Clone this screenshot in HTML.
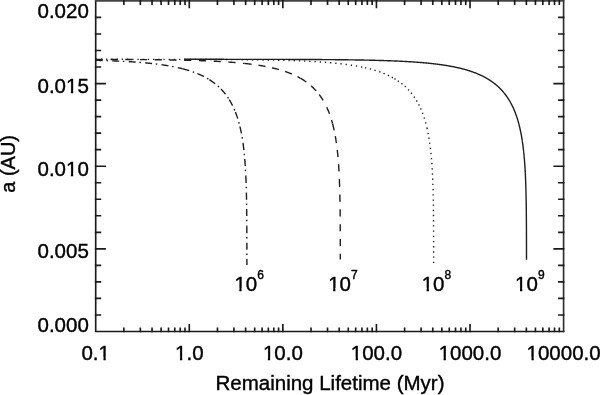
<!DOCTYPE html>
<html><head><meta charset="utf-8"><style>
html,body{margin:0;padding:0;background:#fff;width:600px;height:395px;overflow:hidden}
svg{display:block}
</style></head><body>
<svg width="600" height="395" viewBox="0 0 600 395">
<rect x="0" y="0" width="600" height="395" fill="#fff"/>
<g fill="none" stroke="#1a1a1a" stroke-width="1.65" stroke-linecap="square">
<path d="M95.70,0.90V331.50H563.60"/>
<path d="M563.60,331.50V0.90" stroke="#2e2e2e"/>
<path d="M563.60,0.90H95.70" stroke="#444"/>
<path d="M95.70,314.97h4.70 M563.60,314.97h-4.70 M95.70,298.44h4.70 M563.60,298.44h-4.70 M95.70,281.91h4.70 M563.60,281.91h-4.70 M95.70,265.38h4.70 M563.60,265.38h-4.70 M95.70,248.85h9.40 M563.60,248.85h-9.40 M95.70,232.32h4.70 M563.60,232.32h-4.70 M95.70,215.79h4.70 M563.60,215.79h-4.70 M95.70,199.26h4.70 M563.60,199.26h-4.70 M95.70,182.73h4.70 M563.60,182.73h-4.70 M95.70,166.20h9.40 M563.60,166.20h-9.40 M95.70,149.67h4.70 M563.60,149.67h-4.70 M95.70,133.14h4.70 M563.60,133.14h-4.70 M95.70,116.61h4.70 M563.60,116.61h-4.70 M95.70,100.08h4.70 M563.60,100.08h-4.70 M95.70,83.55h9.40 M563.60,83.55h-9.40 M95.70,67.02h4.70 M563.60,67.02h-4.70 M95.70,50.49h4.70 M563.60,50.49h-4.70 M95.70,33.96h4.70 M563.60,33.96h-4.70 M95.70,17.43h4.70 M563.60,17.43h-4.70 M123.87,331.50v-3.30 M123.87,0.90v3.30 M140.35,331.50v-3.30 M140.35,0.90v3.30 M152.04,331.50v-3.30 M152.04,0.90v3.30 M161.11,331.50v-3.30 M161.11,0.90v3.30 M168.52,331.50v-3.30 M168.52,0.90v3.30 M174.78,331.50v-3.30 M174.78,0.90v3.30 M180.21,331.50v-3.30 M180.21,0.90v3.30 M185.00,331.50v-3.30 M185.00,0.90v3.30 M189.28,331.50v-6.60 M189.28,0.90v6.60 M217.45,331.50v-3.30 M217.45,0.90v3.30 M233.93,331.50v-3.30 M233.93,0.90v3.30 M245.62,331.50v-3.30 M245.62,0.90v3.30 M254.69,331.50v-3.30 M254.69,0.90v3.30 M262.10,331.50v-3.30 M262.10,0.90v3.30 M268.36,331.50v-3.30 M268.36,0.90v3.30 M273.79,331.50v-3.30 M273.79,0.90v3.30 M278.58,331.50v-3.30 M278.58,0.90v3.30 M282.86,331.50v-6.60 M282.86,0.90v6.60 M311.03,331.50v-3.30 M311.03,0.90v3.30 M327.51,331.50v-3.30 M327.51,0.90v3.30 M339.20,331.50v-3.30 M339.20,0.90v3.30 M348.27,331.50v-3.30 M348.27,0.90v3.30 M355.68,331.50v-3.30 M355.68,0.90v3.30 M361.94,331.50v-3.30 M361.94,0.90v3.30 M367.37,331.50v-3.30 M367.37,0.90v3.30 M372.16,331.50v-3.30 M372.16,0.90v3.30 M376.44,331.50v-6.60 M376.44,0.90v6.60 M404.61,331.50v-3.30 M404.61,0.90v3.30 M421.09,331.50v-3.30 M421.09,0.90v3.30 M432.78,331.50v-3.30 M432.78,0.90v3.30 M441.85,331.50v-3.30 M441.85,0.90v3.30 M449.26,331.50v-3.30 M449.26,0.90v3.30 M455.52,331.50v-3.30 M455.52,0.90v3.30 M460.95,331.50v-3.30 M460.95,0.90v3.30 M465.74,331.50v-3.30 M465.74,0.90v3.30 M470.02,331.50v-6.60 M470.02,0.90v6.60 M498.19,331.50v-3.30 M498.19,0.90v3.30 M514.67,331.50v-3.30 M514.67,0.90v3.30 M526.36,331.50v-3.30 M526.36,0.90v3.30 M535.43,331.50v-3.30 M535.43,0.90v3.30 M542.84,331.50v-3.30 M542.84,0.90v3.30 M549.10,331.50v-3.30 M549.10,0.90v3.30 M554.53,331.50v-3.30 M554.53,0.90v3.30 M559.32,331.50v-3.30 M559.32,0.90v3.30"/>
</g>
<g fill="none" stroke="#1e1e1e" stroke-width="1.4">
<path d="M184.00,59.31 L184.56,59.31 L185.13,59.31 L185.69,59.31 L186.25,59.31 L186.82,59.31 L187.38,59.31 L187.95,59.31 L188.51,59.31 L189.07,59.31 L189.64,59.31 L190.20,59.31 L190.76,59.31 L191.33,59.31 L191.89,59.31 L192.46,59.31 L193.02,59.31 L193.58,59.31 L194.15,59.31 L194.71,59.31 L195.27,59.31 L195.84,59.31 L196.40,59.31 L196.97,59.31 L197.53,59.31 L198.09,59.31 L198.66,59.31 L199.22,59.31 L199.78,59.31 L200.35,59.31 L200.91,59.31 L201.47,59.31 L202.04,59.31 L202.60,59.31 L203.17,59.32 L203.73,59.32 L204.29,59.32 L204.86,59.32 L205.42,59.32 L205.98,59.32 L206.55,59.32 L207.11,59.32 L207.68,59.32 L208.24,59.32 L208.80,59.32 L209.37,59.32 L209.93,59.32 L210.49,59.32 L211.06,59.32 L211.62,59.32 L212.18,59.32 L212.75,59.32 L213.31,59.32 L213.88,59.32 L214.44,59.32 L215.00,59.32 L215.57,59.32 L216.13,59.32 L216.69,59.32 L217.26,59.32 L217.82,59.32 L218.39,59.32 L218.95,59.32 L219.51,59.32 L220.08,59.32 L220.64,59.32 L221.20,59.32 L221.77,59.32 L222.33,59.32 L222.90,59.32 L223.46,59.32 L224.02,59.33 L224.59,59.33 L225.15,59.33 L225.71,59.33 L226.28,59.33 L226.84,59.33 L227.40,59.33 L227.97,59.33 L228.53,59.33 L229.10,59.33 L229.66,59.33 L230.22,59.33 L230.79,59.33 L231.35,59.33 L231.91,59.33 L232.48,59.33 L233.04,59.33 L233.61,59.33 L234.17,59.33 L234.73,59.33 L235.30,59.33 L235.86,59.33 L236.42,59.33 L236.99,59.33 L237.55,59.33 L238.11,59.34 L238.68,59.34 L239.24,59.34 L239.81,59.34 L240.37,59.34 L240.93,59.34 L241.50,59.34 L242.06,59.34 L242.62,59.34 L243.19,59.34 L243.75,59.34 L244.32,59.34 L244.88,59.34 L245.44,59.34 L246.01,59.34 L246.57,59.34 L247.13,59.34 L247.70,59.34 L248.26,59.35 L248.83,59.35 L249.39,59.35 L249.95,59.35 L250.52,59.35 L251.08,59.35 L251.64,59.35 L252.21,59.35 L252.77,59.35 L253.33,59.35 L253.90,59.35 L254.46,59.35 L255.03,59.35 L255.59,59.35 L256.15,59.35 L256.72,59.36 L257.28,59.36 L257.84,59.36 L258.41,59.36 L258.97,59.36 L259.54,59.36 L260.10,59.36 L260.66,59.36 L261.23,59.36 L261.79,59.36 L262.35,59.36 L262.92,59.36 L263.48,59.37 L264.04,59.37 L264.61,59.37 L265.17,59.37 L265.74,59.37 L266.30,59.37 L266.86,59.37 L267.43,59.37 L267.99,59.37 L268.55,59.37 L269.12,59.37 L269.68,59.38 L270.25,59.38 L270.81,59.38 L271.37,59.38 L271.94,59.38 L272.50,59.38 L273.06,59.38 L273.63,59.38 L274.19,59.38 L274.76,59.39 L275.32,59.39 L275.88,59.39 L276.45,59.39 L277.01,59.39 L277.57,59.39 L278.14,59.39 L278.70,59.39 L279.26,59.40 L279.83,59.40 L280.39,59.40 L280.96,59.40 L281.52,59.40 L282.08,59.40 L282.65,59.40 L283.21,59.41 L283.77,59.41 L284.34,59.41 L284.90,59.41 L285.47,59.41 L286.03,59.41 L286.59,59.41 L287.16,59.42 L287.72,59.42 L288.28,59.42 L288.85,59.42 L289.41,59.42 L289.97,59.42 L290.54,59.43 L291.10,59.43 L291.67,59.43 L292.23,59.43 L292.79,59.43 L293.36,59.44 L293.92,59.44 L294.48,59.44 L295.05,59.44 L295.61,59.44 L296.18,59.45 L296.74,59.45 L297.30,59.45 L297.87,59.45 L298.43,59.45 L298.99,59.46 L299.56,59.46 L300.12,59.46 L300.69,59.46 L301.25,59.46 L301.81,59.47 L302.38,59.47 L302.94,59.47 L303.50,59.47 L304.07,59.48 L304.63,59.48 L305.19,59.48 L305.76,59.48 L306.32,59.49 L306.89,59.49 L307.45,59.49 L308.01,59.49 L308.58,59.50 L309.14,59.50 L309.70,59.50 L310.27,59.51 L310.83,59.51 L311.40,59.51 L311.96,59.51 L312.52,59.52 L313.09,59.52 L313.65,59.52 L314.21,59.53 L314.78,59.53 L315.34,59.53 L315.91,59.54 L316.47,59.54 L317.03,59.54 L317.60,59.55 L318.16,59.55 L318.72,59.55 L319.29,59.56 L319.85,59.56 L320.41,59.56 L320.98,59.57 L321.54,59.57 L322.11,59.58 L322.67,59.58 L323.23,59.58 L323.80,59.59 L324.36,59.59 L324.92,59.60 L325.49,59.60 L326.05,59.60 L326.62,59.61 L327.18,59.61 L327.74,59.62 L328.31,59.62 L328.87,59.63 L329.43,59.63 L330.00,59.63 L330.56,59.64 L331.12,59.64 L331.69,59.65 L332.25,59.65 L332.82,59.66 L333.38,59.66 L333.94,59.67 L334.51,59.67 L335.07,59.68 L335.63,59.68 L336.20,59.69 L336.76,59.70 L337.33,59.70 L337.89,59.71 L338.45,59.71 L339.02,59.72 L339.58,59.72 L340.14,59.73 L340.71,59.74 L341.27,59.74 L341.84,59.75 L342.40,59.75 L342.96,59.76 L343.53,59.77 L344.09,59.77 L344.65,59.78 L345.22,59.79 L345.78,59.79 L346.34,59.80 L346.91,59.81 L347.47,59.81 L348.04,59.82 L348.60,59.83 L349.16,59.84 L349.73,59.84 L350.29,59.85 L350.85,59.86 L351.42,59.87 L351.98,59.88 L352.55,59.88 L353.11,59.89 L353.67,59.90 L354.24,59.91 L354.80,59.92 L355.36,59.93 L355.93,59.93 L356.49,59.94 L357.05,59.95 L357.62,59.96 L358.18,59.97 L358.75,59.98 L359.31,59.99 L359.87,60.00 L360.44,60.01 L361.00,60.02 L361.56,60.03 L362.13,60.04 L362.69,60.05 L363.26,60.06 L363.82,60.07 L364.38,60.08 L364.95,60.09 L365.51,60.10 L366.07,60.12 L366.64,60.13 L367.20,60.14 L367.77,60.15 L368.33,60.16 L368.89,60.17 L369.46,60.19 L370.02,60.20 L370.58,60.21 L371.15,60.22 L371.71,60.24 L372.27,60.25 L372.84,60.26 L373.40,60.28 L373.97,60.29 L374.53,60.31 L375.09,60.32 L375.66,60.33 L376.22,60.35 L376.78,60.36 L377.35,60.38 L377.91,60.39 L378.48,60.41 L379.04,60.43 L379.60,60.44 L380.17,60.46 L380.73,60.47 L381.29,60.49 L381.86,60.51 L382.42,60.52 L382.98,60.54 L383.55,60.56 L384.11,60.58 L384.68,60.59 L385.24,60.61 L385.80,60.63 L386.37,60.65 L386.93,60.67 L387.49,60.69 L388.06,60.71 L388.62,60.73 L389.19,60.75 L389.75,60.77 L390.31,60.79 L390.88,60.81 L391.44,60.83 L392.00,60.85 L392.57,60.88 L393.13,60.90 L393.70,60.92 L394.26,60.94 L394.82,60.97 L395.39,60.99 L395.95,61.02 L396.51,61.04 L397.08,61.06 L397.64,61.09 L398.20,61.12 L398.77,61.14 L399.33,61.17 L399.90,61.19 L400.46,61.22 L401.02,61.25 L401.59,61.28 L402.15,61.30 L402.71,61.33 L403.28,61.36 L403.84,61.39 L404.41,61.42 L404.97,61.45 L405.53,61.48 L406.10,61.51 L406.66,61.55 L407.22,61.58 L407.79,61.61 L408.35,61.64 L408.91,61.68 L409.48,61.71 L410.04,61.74 L410.61,61.78 L411.17,61.82 L411.73,61.85 L412.30,61.89 L412.86,61.92 L413.42,61.96 L413.99,62.00 L414.55,62.04 L415.12,62.08 L415.68,62.12 L416.24,62.16 L416.81,62.20 L417.37,62.24 L417.93,62.28 L418.50,62.33 L419.06,62.37 L419.63,62.42 L420.19,62.46 L420.75,62.51 L421.32,62.55 L421.88,62.60 L422.44,62.65 L423.01,62.70 L423.57,62.74 L424.13,62.79 L424.70,62.85 L425.26,62.90 L425.83,62.95 L426.39,63.00 L426.95,63.06 L427.52,63.11 L428.08,63.17 L428.64,63.22 L429.21,63.28 L429.77,63.34 L430.34,63.40 L430.90,63.45 L431.46,63.52 L432.03,63.58 L432.59,63.64 L433.15,63.70 L433.72,63.77 L434.28,63.83 L434.85,63.90 L435.41,63.97 L435.97,64.03 L436.54,64.10 L437.10,64.17 L437.66,64.25 L438.23,64.32 L438.79,64.39 L439.35,64.47 L439.92,64.54 L440.48,64.62 L441.05,64.70 L441.61,64.78 L442.17,64.86 L442.74,64.94 L443.30,65.03 L443.86,65.11 L444.43,65.20 L444.99,65.29 L445.56,65.37 L446.12,65.47 L446.68,65.56 L447.25,65.65 L447.81,65.75 L448.37,65.84 L448.94,65.94 L449.50,66.04 L450.06,66.14 L450.63,66.24 L451.19,66.35 L451.76,66.45 L452.32,66.56 L452.88,66.67 L453.45,66.78 L454.01,66.89 L454.57,67.01 L455.14,67.13 L455.70,67.25 L456.27,67.37 L456.83,67.49 L457.39,67.61 L457.96,67.74 L458.52,67.87 L459.08,68.00 L459.65,68.13 L460.21,68.27 L460.78,68.41 L461.34,68.55 L461.90,68.69 L462.47,68.83 L463.03,68.98 L463.59,69.13 L464.16,69.28 L464.72,69.44 L465.28,69.60 L465.85,69.76 L466.41,69.92 L466.98,70.09 L467.54,70.26 L468.10,70.43 L468.67,70.60 L469.23,70.78 L469.79,70.96 L470.36,71.15 L470.92,71.34 L471.49,71.53 L472.05,71.72 L472.61,71.92 L473.18,72.12 L473.74,72.33 L474.30,72.54 L474.87,72.75 L475.43,72.97 L475.99,73.19 L476.56,73.42 L477.12,73.65 L477.69,73.88 L478.25,74.12 L478.81,74.36 L479.38,74.61 L479.94,74.86 L480.50,75.12 L481.07,75.38 L481.63,75.65 L482.20,75.93 L482.76,76.20 L483.32,76.49 L483.89,76.78 L484.45,77.08 L485.01,77.38 L485.58,77.69 L486.14,78.00 L486.71,78.32 L487.27,78.65 L487.83,78.99 L488.40,79.33 L488.96,79.68 L489.52,80.04 L490.09,80.40 L490.65,80.78 L491.21,81.16 L491.78,81.55 L492.34,81.95 L492.91,82.36 L493.47,82.77 L494.03,83.20 L494.60,83.64 L495.16,84.09 L495.72,84.55 L496.29,85.02 L496.85,85.50 L497.42,86.00 L497.98,86.50 L498.54,87.02 L499.11,87.56 L499.67,88.11 L500.23,88.67 L500.80,89.25 L501.36,89.84 L501.92,90.45 L502.49,91.08 L503.05,91.73 L503.62,92.39 L504.18,93.07 L504.74,93.78 L505.31,94.51 L505.87,95.26 L506.43,96.03 L507.00,96.83 L507.56,97.66 L508.13,98.51 L508.69,99.40 L509.25,100.31 L509.82,101.26 L510.38,102.25 L510.94,103.27 L511.51,104.34 L512.07,105.45 L512.64,106.60 L513.20,107.81 L513.76,109.07 L514.33,110.39 L514.89,111.77 L515.45,113.22 L516.02,114.75 L516.58,116.37 L517.14,118.07 L517.71,119.89 L518.27,121.81 L518.84,123.87 L519.40,126.09 L519.96,128.47 L520.53,131.06 L521.09,133.88 L521.65,136.99 L522.22,140.45 L522.25,140.69 L522.29,140.93 L522.33,141.17 L522.36,141.40 L522.40,141.64 L522.43,141.88 L522.47,142.12 L522.50,142.36 L522.54,142.60 L522.57,142.84 L522.60,143.07 L522.64,143.31 L522.67,143.55 L522.70,143.79 L522.74,144.03 L522.77,144.27 L522.80,144.51 L522.83,144.74 L522.87,144.98 L522.90,145.22 L522.93,145.46 L522.96,145.70 L522.99,145.94 L523.02,146.17 L523.05,146.41 L523.08,146.65 L523.11,146.89 L523.14,147.13 L523.17,147.37 L523.20,147.61 L523.23,147.84 L523.26,148.08 L523.29,148.32 L523.31,148.56 L523.34,148.80 L523.37,149.04 L523.40,149.28 L523.43,149.51 L523.45,149.75 L523.48,149.99 L523.51,150.23 L523.53,150.47 L523.56,150.71 L523.59,150.94 L523.61,151.18 L523.64,151.42 L523.66,151.66 L523.69,151.90 L523.71,152.14 L523.74,152.38 L523.76,152.61 L523.79,152.85 L523.81,153.09 L523.84,153.33 L523.86,153.57 L523.88,153.81 L523.91,154.05 L523.93,154.28 L523.95,154.52 L523.98,154.76 L524.00,155.00 L524.02,155.24 L524.04,155.48 L524.07,155.71 L524.09,155.95 L524.11,156.19 L524.13,156.43 L524.15,156.67 L524.17,156.91 L524.20,157.15 L524.22,157.38 L524.24,157.62 L524.26,157.86 L524.28,158.10 L524.30,158.34 L524.32,158.58 L524.34,158.82 L524.36,159.05 L524.38,159.29 L524.40,159.53 L524.42,159.77 L524.44,160.01 L524.46,160.25 L524.48,160.48 L524.49,160.72 L524.51,160.96 L524.53,161.20 L524.55,161.44 L524.57,161.68 L524.59,161.92 L524.60,162.15 L524.62,162.39 L524.64,162.63 L524.66,162.87 L524.67,163.11 L524.69,163.35 L524.71,163.59 L524.73,163.82 L524.74,164.06 L524.76,164.30 L524.78,164.54 L524.79,164.78 L524.81,165.02 L524.82,165.25 L524.84,165.49 L524.86,165.73 L524.87,165.97 L524.89,166.21 L524.90,166.45 L524.92,166.69 L524.93,166.92 L524.95,167.16 L524.96,167.40 L524.98,167.64 L524.99,167.88 L525.01,168.12 L525.02,168.36 L525.04,168.59 L525.05,168.83 L525.06,169.07 L525.08,169.31 L525.09,169.55 L525.11,169.79 L525.12,170.02 L525.13,170.26 L525.15,170.50 L525.16,170.74 L525.17,170.98 L525.19,171.22 L525.20,171.46 L525.21,171.69 L525.22,171.93 L525.24,172.17 L525.25,172.41 L525.26,172.65 L525.27,172.89 L525.29,173.13 L525.30,173.36 L525.31,173.60 L525.32,173.84 L525.33,174.08 L525.35,174.32 L525.36,174.56 L525.37,174.79 L525.38,175.03 L525.39,175.27 L525.40,175.51 L525.41,175.75 L525.42,175.99 L525.44,176.23 L525.45,176.46 L525.46,176.70 L525.47,176.94 L525.48,177.18 L525.49,177.42 L525.50,177.66 L525.51,177.90 L525.52,178.13 L525.53,178.37 L525.54,178.61 L525.55,178.85 L525.56,179.09 L525.57,179.33 L525.58,179.56 L525.59,179.80 L525.60,180.04 L525.61,180.28 L525.62,180.52 L525.63,180.76 L525.63,181.00 L525.64,181.23 L525.65,181.47 L525.66,181.71 L525.67,181.95 L525.68,182.19 L525.69,182.43 L525.70,182.67 L525.70,182.90 L525.71,183.14 L525.72,183.38 L525.73,183.62 L525.74,183.86 L525.75,184.10 L525.75,184.33 L525.76,184.57 L525.77,184.81 L525.78,185.05 L525.79,185.29 L525.79,185.53 L525.80,185.77 L525.81,186.00 L525.82,186.24 L525.82,186.48 L525.83,186.72 L525.84,186.96 L525.84,187.20 L525.85,187.44 L525.86,187.67 L525.87,187.91 L525.87,188.15 L525.88,188.39 L525.89,188.63 L525.89,188.87 L525.90,189.10 L525.91,189.34 L525.91,189.58 L525.92,189.82 L525.93,190.06 L525.93,190.30 L525.94,190.54 L525.95,190.77 L525.95,191.01 L525.96,191.25 L525.96,191.49 L525.97,191.73 L525.98,191.97 L525.98,192.20 L525.99,192.44 L525.99,192.68 L526.00,192.92 L526.00,193.16 L526.01,193.40 L526.02,193.64 L526.02,193.87 L526.03,194.11 L526.03,194.35 L526.04,194.59 L526.04,194.83 L526.05,195.07 L526.05,195.31 L526.06,195.54 L526.06,195.78 L526.07,196.02 L526.07,196.26 L526.08,196.50 L526.08,196.74 L526.09,196.97 L526.09,197.21 L526.10,197.45 L526.10,197.69 L526.11,197.93 L526.11,198.17 L526.12,198.41 L526.12,198.64 L526.13,198.88 L526.13,199.12 L526.13,199.36 L526.14,199.60 L526.14,199.84 L526.15,200.08 L526.15,200.31 L526.16,200.55 L526.16,200.79 L526.16,201.03 L526.17,201.27 L526.17,201.51 L526.18,201.74 L526.18,201.98 L526.18,202.22 L526.19,202.46 L526.19,202.70 L526.20,202.94 L526.20,203.18 L526.20,203.41 L526.21,203.65 L526.21,203.89 L526.21,204.13 L526.22,204.37 L526.22,204.61 L526.22,204.85 L526.23,205.08 L526.23,205.32 L526.23,205.56 L526.24,205.80 L526.24,206.04 L526.24,206.28 L526.25,206.51 L526.25,206.75 L526.25,206.99 L526.26,207.23 L526.26,207.47 L526.26,207.71 L526.27,207.95 L526.27,208.18 L526.27,208.42 L526.28,208.66 L526.28,208.90 L526.28,209.14 L526.28,209.38 L526.29,209.62 L526.29,209.85 L526.29,210.09 L526.30,210.33 L526.30,210.57 L526.30,210.81 L526.30,211.05 L526.31,211.28 L526.31,211.52 L526.31,211.76 L526.31,212.00 L526.32,212.24 L526.32,212.48 L526.32,212.72 L526.32,212.95 L526.33,213.19 L526.33,213.43 L526.33,213.67 L526.33,213.91 L526.34,214.15 L526.34,214.39 L526.34,214.62 L526.34,214.86 L526.34,215.10 L526.35,215.34 L526.35,215.58 L526.35,215.82 L526.35,216.05 L526.35,216.29 L526.36,216.53 L526.36,216.77 L526.36,217.01 L526.36,217.25 L526.36,217.49 L526.37,217.72 L526.37,217.96 L526.37,218.20 L526.37,218.44 L526.37,218.68 L526.38,218.92 L526.38,219.16 L526.38,219.39 L526.38,219.63 L526.38,219.87 L526.38,220.11 L526.39,220.35 L526.39,220.59 L526.39,220.82 L526.39,221.06 L526.39,221.30 L526.39,221.54 L526.40,221.78 L526.40,222.02 L526.40,222.26 L526.40,222.49 L526.40,222.73 L526.40,222.97 L526.41,223.21 L526.41,223.45 L526.41,223.69 L526.41,223.93 L526.41,224.16 L526.41,224.40 L526.41,224.64 L526.42,224.88 L526.42,225.12 L526.42,225.36 L526.42,225.59 L526.42,225.83 L526.42,226.07 L526.42,226.31 L526.42,226.55 L526.43,226.79 L526.43,227.03 L526.43,227.26 L526.43,227.50 L526.43,227.74 L526.43,227.98 L526.43,228.22 L526.43,228.46 L526.43,228.70 L526.44,228.93 L526.44,229.17 L526.44,229.41 L526.44,229.65 L526.44,229.89 L526.44,230.13 L526.44,230.36 L526.44,230.60 L526.44,230.84 L526.44,231.08 L526.45,231.32 L526.45,231.56 L526.45,231.80 L526.45,232.03 L526.45,232.27 L526.45,232.51 L526.45,232.75 L526.45,232.99 L526.45,233.23 L526.45,233.47 L526.45,233.70 L526.46,233.94 L526.46,234.18 L526.46,234.42 L526.46,234.66 L526.46,234.90 L526.46,235.13 L526.46,235.37 L526.46,235.61 L526.46,235.85 L526.46,236.09 L526.46,236.33 L526.46,236.57 L526.46,236.80 L526.47,237.04 L526.47,237.28 L526.47,237.52 L526.47,237.76 L526.47,238.00 L526.47,238.24 L526.47,238.47 L526.47,238.71 L526.47,238.95 L526.47,239.19 L526.47,239.43 L526.47,239.67 L526.47,239.90 L526.47,240.14 L526.47,240.38 L526.47,240.62 L526.48,240.86 L526.48,241.10 L526.48,241.34 L526.48,241.57 L526.48,241.81 L526.48,242.05 L526.48,242.29 L526.48,242.53 L526.48,242.77 L526.48,243.01 L526.48,243.24 L526.48,243.48 L526.48,243.72 L526.48,243.96 L526.48,244.20 L526.48,244.44 L526.48,244.67 L526.48,244.91 L526.48,245.15 L526.48,245.39 L526.48,245.63 L526.48,245.87 L526.49,246.11 L526.49,246.34 L526.49,246.58 L526.49,246.82 L526.49,247.06 L526.49,247.30 L526.49,247.54 L526.49,247.78 L526.49,248.01 L526.49,248.25 L526.49,248.49 L526.49,248.73 L526.49,248.97 L526.49,249.21 L526.49,249.44 L526.49,249.68 L526.49,249.92 L526.49,250.16 L526.49,250.40 L526.49,250.64 L526.49,250.88 L526.49,251.11 L526.49,251.35 L526.49,251.59 L526.49,251.83 L526.49,252.07 L526.49,252.31 L526.49,252.55 L526.49,252.78 L526.49,253.02 L526.49,253.26 L526.49,253.50 L526.50,253.74 L526.50,253.98 L526.50,254.21 L526.50,254.45 L526.50,254.69 L526.50,254.93 L526.50,255.17 L526.50,255.41 L526.50,255.65 L526.50,255.88 L526.50,256.12 L526.50,256.36 L526.50,256.60 L526.50,256.84 L526.50,257.08 L526.50,257.32 L526.50,257.55 L526.50,257.79 L526.50,258.03 L526.50,258.27 L526.50,258.51 L526.50,258.75 L526.50,258.98 L526.50,259.22 L526.50,259.46 L526.50,259.70"/>
<path d="M95.70,59.31 L96.26,59.31 L96.81,59.31 L97.37,59.31 L97.92,59.31 L98.48,59.31 L99.04,59.31 L99.59,59.31 L100.15,59.31 L100.71,59.31 L101.26,59.31 L101.82,59.31 L102.37,59.31 L102.93,59.31 L103.49,59.31 L104.04,59.31 L104.60,59.31 L105.15,59.31 L105.71,59.31 L106.27,59.31 L106.82,59.31 L107.38,59.31 L107.93,59.31 L108.49,59.31 L109.05,59.31 L109.60,59.31 L110.16,59.32 L110.72,59.32 L111.27,59.32 L111.83,59.32 L112.38,59.32 L112.94,59.32 L113.50,59.32 L114.05,59.32 L114.61,59.32 L115.16,59.32 L115.72,59.32 L116.28,59.32 L116.83,59.32 L117.39,59.32 L117.94,59.32 L118.50,59.32 L119.06,59.32 L119.61,59.32 L120.17,59.32 L120.73,59.32 L121.28,59.32 L121.84,59.32 L122.39,59.32 L122.95,59.32 L123.51,59.32 L124.06,59.32 L124.62,59.32 L125.17,59.32 L125.73,59.32 L126.29,59.32 L126.84,59.32 L127.40,59.32 L127.95,59.32 L128.51,59.32 L129.07,59.32 L129.62,59.32 L130.18,59.32 L130.74,59.32 L131.29,59.33 L131.85,59.33 L132.40,59.33 L132.96,59.33 L133.52,59.33 L134.07,59.33 L134.63,59.33 L135.18,59.33 L135.74,59.33 L136.30,59.33 L136.85,59.33 L137.41,59.33 L137.96,59.33 L138.52,59.33 L139.08,59.33 L139.63,59.33 L140.19,59.33 L140.75,59.33 L141.30,59.33 L141.86,59.33 L142.41,59.33 L142.97,59.33 L143.53,59.33 L144.08,59.33 L144.64,59.33 L145.19,59.34 L145.75,59.34 L146.31,59.34 L146.86,59.34 L147.42,59.34 L147.97,59.34 L148.53,59.34 L149.09,59.34 L149.64,59.34 L150.20,59.34 L150.76,59.34 L151.31,59.34 L151.87,59.34 L152.42,59.34 L152.98,59.34 L153.54,59.34 L154.09,59.34 L154.65,59.34 L155.20,59.34 L155.76,59.35 L156.32,59.35 L156.87,59.35 L157.43,59.35 L157.98,59.35 L158.54,59.35 L159.10,59.35 L159.65,59.35 L160.21,59.35 L160.77,59.35 L161.32,59.35 L161.88,59.35 L162.43,59.35 L162.99,59.35 L163.55,59.35 L164.10,59.36 L164.66,59.36 L165.21,59.36 L165.77,59.36 L166.33,59.36 L166.88,59.36 L167.44,59.36 L167.99,59.36 L168.55,59.36 L169.11,59.36 L169.66,59.36 L170.22,59.36 L170.78,59.37 L171.33,59.37 L171.89,59.37 L172.44,59.37 L173.00,59.37 L173.56,59.37 L174.11,59.37 L174.67,59.37 L175.22,59.37 L175.78,59.37 L176.34,59.38 L176.89,59.38 L177.45,59.38 L178.00,59.38 L178.56,59.38 L179.12,59.38 L179.67,59.38 L180.23,59.38 L180.79,59.38 L181.34,59.38 L181.90,59.39 L182.45,59.39 L183.01,59.39 L183.57,59.39 L184.12,59.39 L184.68,59.39 L185.23,59.39 L185.79,59.39 L186.35,59.40 L186.90,59.40 L187.46,59.40 L188.01,59.40 L188.57,59.40 L189.13,59.40 L189.68,59.40 L190.24,59.41 L190.80,59.41 L191.35,59.41 L191.91,59.41 L192.46,59.41 L193.02,59.41 L193.58,59.41 L194.13,59.42 L194.69,59.42 L195.24,59.42 L195.80,59.42 L196.36,59.42 L196.91,59.42 L197.47,59.43 L198.02,59.43 L198.58,59.43 L199.14,59.43 L199.69,59.43 L200.25,59.43 L200.81,59.44 L201.36,59.44 L201.92,59.44 L202.47,59.44 L203.03,59.44 L203.59,59.45 L204.14,59.45 L204.70,59.45 L205.25,59.45 L205.81,59.45 L206.37,59.46 L206.92,59.46 L207.48,59.46 L208.03,59.46 L208.59,59.47 L209.15,59.47 L209.70,59.47 L210.26,59.47 L210.82,59.47 L211.37,59.48 L211.93,59.48 L212.48,59.48 L213.04,59.48 L213.60,59.49 L214.15,59.49 L214.71,59.49 L215.26,59.50 L215.82,59.50 L216.38,59.50 L216.93,59.50 L217.49,59.51 L218.04,59.51 L218.60,59.51 L219.16,59.51 L219.71,59.52 L220.27,59.52 L220.83,59.52 L221.38,59.53 L221.94,59.53 L222.49,59.53 L223.05,59.54 L223.61,59.54 L224.16,59.54 L224.72,59.55 L225.27,59.55 L225.83,59.55 L226.39,59.56 L226.94,59.56 L227.50,59.56 L228.05,59.57 L228.61,59.57 L229.17,59.57 L229.72,59.58 L230.28,59.58 L230.84,59.59 L231.39,59.59 L231.95,59.59 L232.50,59.60 L233.06,59.60 L233.62,59.61 L234.17,59.61 L234.73,59.61 L235.28,59.62 L235.84,59.62 L236.40,59.63 L236.95,59.63 L237.51,59.64 L238.07,59.64 L238.62,59.65 L239.18,59.65 L239.73,59.66 L240.29,59.66 L240.85,59.67 L241.40,59.67 L241.96,59.68 L242.51,59.68 L243.07,59.69 L243.63,59.69 L244.18,59.70 L244.74,59.70 L245.29,59.71 L245.85,59.71 L246.41,59.72 L246.96,59.73 L247.52,59.73 L248.08,59.74 L248.63,59.74 L249.19,59.75 L249.74,59.76 L250.30,59.76 L250.86,59.77 L251.41,59.78 L251.97,59.78 L252.52,59.79 L253.08,59.80 L253.64,59.80 L254.19,59.81 L254.75,59.82 L255.30,59.82 L255.86,59.83 L256.42,59.84 L256.97,59.85 L257.53,59.85 L258.09,59.86 L258.64,59.87 L259.20,59.88 L259.75,59.88 L260.31,59.89 L260.87,59.90 L261.42,59.91 L261.98,59.92 L262.53,59.93 L263.09,59.93 L263.65,59.94 L264.20,59.95 L264.76,59.96 L265.31,59.97 L265.87,59.98 L266.43,59.99 L266.98,60.00 L267.54,60.01 L268.10,60.02 L268.65,60.03 L269.21,60.04 L269.76,60.05 L270.32,60.06 L270.88,60.07 L271.43,60.08 L271.99,60.09 L272.54,60.10 L273.10,60.11 L273.66,60.12 L274.21,60.14 L274.77,60.15 L275.32,60.16 L275.88,60.17 L276.44,60.18 L276.99,60.20 L277.55,60.21 L278.11,60.22 L278.66,60.23 L279.22,60.25 L279.77,60.26 L280.33,60.27 L280.89,60.29 L281.44,60.30 L282.00,60.31 L282.55,60.33 L283.11,60.34 L283.67,60.36 L284.22,60.37 L284.78,60.39 L285.33,60.40 L285.89,60.42 L286.45,60.43 L287.00,60.45 L287.56,60.46 L288.12,60.48 L288.67,60.50 L289.23,60.51 L289.78,60.53 L290.34,60.55 L290.90,60.57 L291.45,60.58 L292.01,60.60 L292.56,60.62 L293.12,60.64 L293.68,60.66 L294.23,60.67 L294.79,60.69 L295.34,60.71 L295.90,60.73 L296.46,60.75 L297.01,60.77 L297.57,60.79 L298.13,60.82 L298.68,60.84 L299.24,60.86 L299.79,60.88 L300.35,60.90 L300.91,60.92 L301.46,60.95 L302.02,60.97 L302.57,60.99 L303.13,61.02 L303.69,61.04 L304.24,61.07 L304.80,61.09 L305.35,61.12 L305.91,61.14 L306.47,61.17 L307.02,61.19 L307.58,61.22 L308.14,61.25 L308.69,61.27 L309.25,61.30 L309.80,61.33 L310.36,61.36 L310.92,61.39 L311.47,61.42 L312.03,61.45 L312.58,61.48 L313.14,61.51 L313.70,61.54 L314.25,61.57 L314.81,61.60 L315.36,61.63 L315.92,61.67 L316.48,61.70 L317.03,61.74 L317.59,61.77 L318.15,61.80 L318.70,61.84 L319.26,61.88 L319.81,61.91 L320.37,61.95 L320.93,61.99 L321.48,62.02 L322.04,62.06 L322.59,62.10 L323.15,62.14 L323.71,62.18 L324.26,62.22 L324.82,62.26 L325.37,62.31 L325.93,62.35 L326.49,62.39 L327.04,62.44 L327.60,62.48 L328.16,62.53 L328.71,62.57 L329.27,62.62 L329.82,62.67 L330.38,62.71 L330.94,62.76 L331.49,62.81 L332.05,62.86 L332.60,62.91 L333.16,62.97 L333.72,63.02 L334.27,63.07 L334.83,63.13 L335.38,63.18 L335.94,63.24 L336.50,63.29 L337.05,63.35 L337.61,63.41 L338.17,63.47 L338.72,63.53 L339.28,63.59 L339.83,63.65 L340.39,63.71 L340.95,63.78 L341.50,63.84 L342.06,63.91 L342.61,63.97 L343.17,64.04 L343.73,64.11 L344.28,64.18 L344.84,64.25 L345.39,64.32 L345.95,64.39 L346.51,64.47 L347.06,64.54 L347.62,64.62 L348.18,64.70 L348.73,64.78 L349.29,64.86 L349.84,64.94 L350.40,65.02 L350.96,65.10 L351.51,65.19 L352.07,65.27 L352.62,65.36 L353.18,65.45 L353.74,65.54 L354.29,65.63 L354.85,65.73 L355.40,65.82 L355.96,65.92 L356.52,66.02 L357.07,66.11 L357.63,66.22 L358.19,66.32 L358.74,66.42 L359.30,66.53 L359.85,66.64 L360.41,66.74 L360.97,66.86 L361.52,66.97 L362.08,67.08 L362.63,67.20 L363.19,67.32 L363.75,67.44 L364.30,67.56 L364.86,67.68 L364.95,67.71" stroke-dasharray="1.30 3.91"/>
<path d="M364.95,67.71 L365.41,67.81 L365.97,67.94 L366.53,68.07 L367.08,68.20 L367.64,68.34 L368.20,68.47 L368.75,68.61 L369.31,68.76 L369.79,68.88" stroke-dasharray="1.30 3.91"/>
<path d="M369.79,68.88 L369.86,68.90 L370.42,69.05 L370.98,69.19 L371.53,69.35 L372.09,69.50 L372.64,69.66 L373.20,69.82 L373.76,69.98 L374.31,70.14 L374.42,70.18" stroke-dasharray="1.30 3.91"/>
<path d="M374.42,70.18 L374.87,70.31 L375.43,70.48 L375.98,70.66 L376.54,70.83 L377.09,71.01 L377.65,71.20 L378.21,71.38 L378.76,71.57 L379.26,71.75" stroke-dasharray="1.30 3.91"/>
<path d="M379.26,71.75 L379.32,71.76 L379.87,71.96 L380.43,72.16 L380.99,72.36 L381.54,72.57 L382.10,72.78 L382.65,73.00 L383.21,73.22 L383.47,73.32" stroke-dasharray="1.30 3.91"/>
<path d="M383.47,73.32 L383.77,73.44 L384.32,73.67 L384.88,73.90 L385.44,74.14 L385.99,74.38 L386.55,74.62 L387.10,74.87 L387.66,75.12 L387.87,75.22" stroke-dasharray="1.30 3.91"/>
<path d="M387.87,75.22 L388.22,75.38 L388.77,75.65 L389.33,75.92 L389.88,76.19 L390.44,76.47 L391.00,76.76 L391.55,77.05 L391.82,77.20" stroke-dasharray="1.30 3.91"/>
<path d="M391.82,77.20 L392.11,77.35 L392.66,77.65 L393.22,77.96 L393.78,78.28 L394.33,78.60 L394.47,78.68" stroke-dasharray="1.30 3.91"/>
<path d="M394.47,78.68 L394.89,78.93 L395.45,79.27 L396.00,79.61 L396.56,79.96 L397.11,80.32 L397.67,80.69 L397.82,80.79" stroke-dasharray="1.30 3.91"/>
<path d="M397.82,80.79 L398.23,81.06 L398.78,81.45 L399.34,81.84 L399.89,82.24 L400.45,82.65 L401.01,83.07 L401.42,83.39" stroke-dasharray="1.30 3.91"/>
<path d="M401.42,83.39 L401.56,83.50 L402.12,83.94 L402.67,84.39 L403.23,84.85 L403.79,85.32 L404.34,85.80 L404.74,86.15" stroke-dasharray="1.30 3.91"/>
<path d="M404.74,86.15 L404.90,86.30 L405.46,86.81 L406.01,87.33 L406.57,87.86 L407.12,88.41 L407.68,88.97 L408.13,89.44" stroke-dasharray="1.30 3.91"/>
<path d="M408.13,89.44 L408.24,89.55 L408.79,90.15 L409.35,90.76 L409.90,91.38 L410.46,92.03 L411.02,92.69 L411.04,92.72" stroke-dasharray="1.30 3.91"/>
<path d="M411.04,92.72 L411.57,93.38 L412.13,94.08 L412.68,94.81 L413.24,95.56 L413.80,96.33 L413.94,96.53" stroke-dasharray="1.30 3.91"/>
<path d="M413.94,96.53 L414.35,97.13 L414.91,97.96 L415.47,98.81 L416.02,99.69 L416.46,100.41" stroke-dasharray="1.30 3.91"/>
<path d="M416.46,100.41 L416.58,100.61 L417.13,101.55 L417.69,102.54 L418.25,103.56 L418.68,104.38" stroke-dasharray="1.30 3.91"/>
<path d="M418.68,104.38 L418.80,104.62 L419.36,105.72 L419.91,106.88 L420.47,108.08 L420.60,108.37" stroke-dasharray="1.30 3.91"/>
<path d="M420.60,108.37 L421.03,109.33 L421.58,110.65 L422.14,112.02 L422.42,112.75" stroke-dasharray="1.30 3.91"/>
<path d="M422.42,112.75 L422.69,113.47 L423.25,114.99 L423.81,116.60 L424.08,117.42" stroke-dasharray="1.30 3.91"/>
<path d="M424.08,117.42 L424.36,118.29 L424.92,120.09 L425.48,122.01 L425.55,122.27" stroke-dasharray="1.30 3.91"/>
<path d="M425.55,122.27 L426.03,124.05 L426.59,126.25 L426.95,127.79" stroke-dasharray="1.30 3.91"/>
<path d="M426.95,127.79 L427.14,128.61 L427.70,131.17 L428.02,132.79" stroke-dasharray="1.30 3.91"/>
<path d="M428.02,132.79 L428.26,133.97 L428.81,137.05 L428.89,137.51" stroke-dasharray="1.30 3.91"/>
<path d="M428.89,137.51 L429.37,140.46 L429.41,140.71 L429.44,140.95 L429.48,141.20 L429.52,141.45 L429.55,141.69 L429.59,141.94 L429.63,142.18 L429.66,142.43 L429.68,142.57" stroke-dasharray="1.30 3.91"/>
<path d="M429.68,142.57 L429.70,142.67 L429.73,142.92 L429.77,143.16 L429.80,143.41 L429.83,143.65 L429.87,143.90 L429.90,144.15 L429.94,144.39 L429.97,144.64 L430.00,144.88 L430.03,145.13 L430.07,145.37 L430.10,145.62 L430.13,145.86 L430.16,146.11 L430.19,146.35 L430.22,146.60 L430.25,146.85 L430.28,147.09 L430.32,147.34 L430.35,147.58 L430.37,147.77" stroke-dasharray="1.30 3.91"/>
<path d="M430.37,147.77 L430.37,147.83 L430.40,148.07 L430.43,148.32 L430.46,148.56 L430.49,148.81 L430.52,149.06 L430.55,149.30 L430.58,149.55 L430.60,149.79 L430.63,150.04 L430.66,150.28 L430.69,150.53 L430.71,150.77 L430.74,151.02 L430.77,151.26 L430.79,151.51 L430.82,151.76 L430.85,152.00 L430.87,152.25 L430.90,152.49 L430.92,152.74 L430.94,152.86" stroke-dasharray="1.30 3.91"/>
<path d="M430.94,152.86 L430.95,152.98 L430.97,153.23 L431.00,153.47 L431.02,153.72 L431.05,153.96 L431.07,154.21 L431.09,154.46 L431.12,154.70 L431.14,154.95 L431.17,155.19 L431.19,155.44 L431.21,155.68 L431.23,155.93 L431.26,156.17 L431.28,156.42 L431.30,156.66 L431.32,156.91 L431.34,157.16 L431.37,157.40 L431.39,157.65 L431.41,157.89 L431.42,157.96" stroke-dasharray="1.30 3.91"/>
<path d="M431.42,157.96 L431.43,158.14 L431.45,158.38 L431.47,158.63 L431.49,158.87 L431.51,159.12 L431.53,159.36 L431.55,159.61 L431.57,159.86 L431.59,160.10 L431.61,160.35 L431.63,160.59 L431.65,160.84 L431.67,161.08 L431.69,161.33 L431.71,161.57 L431.73,161.82 L431.75,162.07 L431.76,162.31 L431.78,162.56 L431.80,162.80 L431.81,162.95" stroke-dasharray="1.30 3.91"/>
<path d="M431.81,162.95 L431.82,163.05 L431.84,163.29 L431.85,163.54 L431.87,163.78 L431.89,164.03 L431.91,164.27 L431.92,164.52 L431.94,164.77 L431.96,165.01 L431.97,165.26 L431.99,165.50 L432.01,165.75 L432.02,165.99 L432.04,166.24 L432.05,166.48 L432.07,166.73 L432.08,166.97 L432.10,167.22 L432.12,167.47 L432.13,167.71 L432.15,167.96 L432.16,168.16" stroke-dasharray="1.30 3.91"/>
<path d="M432.16,168.16 L432.16,168.20 L432.18,168.45 L432.19,168.69 L432.20,168.94 L432.22,169.18 L432.23,169.43 L432.25,169.67 L432.26,169.92 L432.28,170.17 L432.29,170.41 L432.30,170.66 L432.32,170.90 L432.33,171.15 L432.34,171.39 L432.36,171.64 L432.37,171.88 L432.38,172.13 L432.40,172.38 L432.41,172.62 L432.42,172.87 L432.43,173.11 L432.45,173.36 L432.45,173.46" stroke-dasharray="1.30 3.91"/>
<path d="M432.45,173.46 L432.46,173.60 L432.47,173.85 L432.48,174.09 L432.49,174.34 L432.51,174.58 L432.52,174.83 L432.53,175.08 L432.54,175.32 L432.55,175.57 L432.56,175.81 L432.58,176.06 L432.59,176.30 L432.60,176.55 L432.61,176.79 L432.62,177.04 L432.63,177.28 L432.64,177.53 L432.65,177.78 L432.66,178.02 L432.67,178.27 L432.68,178.51 L432.68,178.55" stroke-dasharray="1.30 3.91"/>
<path d="M432.68,178.55 L432.69,178.76 L432.70,179.00 L432.71,179.25 L432.72,179.49 L432.73,179.74 L432.74,179.98 L432.75,180.23 L432.76,180.48 L432.77,180.72 L432.78,180.97 L432.79,181.21 L432.80,181.46 L432.81,181.70 L432.82,181.95 L432.83,182.19 L432.84,182.44 L432.84,182.68 L432.85,182.93 L432.86,183.18 L432.87,183.42 L432.88,183.67 L432.88,183.75" stroke-dasharray="1.30 3.91"/>
<path d="M432.88,183.75 L432.89,183.91 L432.90,184.16 L432.90,184.40 L432.91,184.65 L432.92,184.89 L432.93,185.14 L432.94,185.39 L432.94,185.63 L432.95,185.88 L432.96,186.12 L432.97,186.37 L432.98,186.61 L432.98,186.86 L432.99,187.10 L433.00,187.35 L433.00,187.59 L433.01,187.84 L433.02,188.09 L433.03,188.33 L433.03,188.58 L433.04,188.82 L433.04,188.95" stroke-dasharray="1.30 3.91"/>
<path d="M433.04,188.95 L433.05,189.07 L433.05,189.31 L433.06,189.56 L433.07,189.80 L433.07,190.05 L433.08,190.29 L433.09,190.54 L433.09,190.79 L433.10,191.03 L433.11,191.28 L433.11,191.52 L433.12,191.77 L433.12,192.01 L433.13,192.26 L433.14,192.50 L433.14,192.75 L433.15,192.99 L433.15,193.24 L433.16,193.49 L433.17,193.73 L433.17,193.98 L433.18,194.22 L433.18,194.25" stroke-dasharray="1.30 3.91"/>
<path d="M433.18,194.25 L433.18,194.47 L433.19,194.71 L433.19,194.96 L433.20,195.20 L433.20,195.45 L433.21,195.69 L433.22,195.94 L433.22,196.19 L433.23,196.43 L433.23,196.68 L433.24,196.92 L433.24,197.17 L433.25,197.41 L433.25,197.66 L433.26,197.90 L433.26,198.15 L433.26,198.40 L433.27,198.64 L433.27,198.89 L433.28,199.13 L433.28,199.38 L433.28,199.45" stroke-dasharray="1.30 3.91"/>
<path d="M433.28,199.45 L433.29,199.62 L433.29,199.87 L433.30,200.11 L433.30,200.36 L433.31,200.60 L433.31,200.85 L433.31,201.10 L433.32,201.34 L433.32,201.59 L433.33,201.83 L433.33,202.08 L433.33,202.32 L433.34,202.57 L433.34,202.81 L433.35,203.06 L433.35,203.30 L433.35,203.55 L433.36,203.80 L433.36,204.04 L433.36,204.29 L433.37,204.45" stroke-dasharray="1.30 3.91"/>
<path d="M433.37,204.45 L433.37,204.53 L433.37,204.78 L433.38,205.02 L433.38,205.27 L433.38,205.51 L433.39,205.76 L433.39,206.00 L433.39,206.25 L433.40,206.50 L433.40,206.74 L433.40,206.99 L433.41,207.23 L433.41,207.48 L433.41,207.72 L433.42,207.97 L433.42,208.21 L433.42,208.46 L433.42,208.71 L433.43,208.95 L433.43,209.20 L433.43,209.44 L433.44,209.69 L433.44,209.93 L433.44,210.18 L433.44,210.42 L433.45,210.67 L433.45,210.91 L433.45,211.16 L433.46,211.41 L433.46,211.65 L433.46,211.90 L433.46,212.14 L433.47,212.39 L433.47,212.63 L433.47,212.88 L433.47,213.12 L433.48,213.37 L433.48,213.61 L433.48,213.86 L433.48,214.11 L433.49,214.35 L433.49,214.60 L433.49,214.84 L433.49,215.09 L433.49,215.33 L433.50,215.58 L433.50,215.82 L433.50,216.07 L433.50,216.31 L433.51,216.56 L433.51,216.81 L433.51,217.05 L433.51,217.30 L433.51,217.54 L433.52,217.79 L433.52,218.03 L433.52,218.28 L433.52,218.52 L433.52,218.77 L433.52,219.01 L433.53,219.26 L433.53,219.51 L433.53,219.75 L433.53,220.00 L433.53,220.24 L433.54,220.49 L433.54,220.73 L433.54,220.98 L433.54,221.22 L433.54,221.47 L433.54,221.72 L433.55,221.96 L433.55,222.21 L433.55,222.45 L433.55,222.70 L433.55,222.94 L433.55,223.19 L433.55,223.43 L433.56,223.68 L433.56,223.92 L433.56,224.17 L433.56,224.42 L433.56,224.66 L433.56,224.91 L433.56,225.15 L433.57,225.40 L433.57,225.64 L433.57,225.89 L433.57,226.13 L433.57,226.38 L433.57,226.62 L433.57,226.87 L433.57,227.12 L433.58,227.36 L433.58,227.61 L433.58,227.85 L433.58,228.10 L433.58,228.34 L433.58,228.59 L433.58,228.83 L433.58,229.08 L433.59,229.32 L433.59,229.57 L433.59,229.82 L433.59,230.06 L433.59,230.31 L433.59,230.55 L433.59,230.80 L433.59,231.04 L433.59,231.29 L433.59,231.53 L433.60,231.78 L433.60,232.02 L433.60,232.27 L433.60,232.52 L433.60,232.76 L433.60,233.01 L433.60,233.25 L433.60,233.50 L433.60,233.74 L433.60,233.99 L433.60,234.23 L433.61,234.48 L433.61,234.73 L433.61,234.97 L433.61,235.22 L433.61,235.46 L433.61,235.71 L433.61,235.95 L433.61,236.20 L433.61,236.44 L433.61,236.69 L433.61,236.93 L433.61,237.18 L433.61,237.43 L433.62,237.67 L433.62,237.92 L433.62,238.16 L433.62,238.41 L433.62,238.65 L433.62,238.90 L433.62,239.14 L433.62,239.39 L433.62,239.63 L433.62,239.88 L433.62,240.13 L433.62,240.37 L433.62,240.62 L433.62,240.86 L433.62,241.11 L433.62,241.35 L433.62,241.60 L433.63,241.84 L433.63,242.09 L433.63,242.33 L433.63,242.58 L433.63,242.83 L433.63,243.07 L433.63,243.32 L433.63,243.56 L433.63,243.81 L433.63,244.05 L433.63,244.30 L433.63,244.54 L433.63,244.79 L433.63,245.04 L433.63,245.28 L433.63,245.53 L433.63,245.77 L433.63,246.02 L433.63,246.26 L433.63,246.51 L433.63,246.75 L433.63,247.00 L433.64,247.24 L433.64,247.49 L433.64,247.74 L433.64,247.98 L433.64,248.23 L433.64,248.47 L433.64,248.72 L433.64,248.96 L433.64,249.21 L433.64,249.45 L433.64,249.70 L433.64,249.94 L433.64,250.19 L433.64,250.44 L433.64,250.68 L433.64,250.93 L433.64,251.17 L433.64,251.42 L433.64,251.66 L433.64,251.91 L433.64,252.15 L433.64,252.40 L433.64,252.64 L433.64,252.89 L433.64,253.14 L433.64,253.38 L433.64,253.63 L433.64,253.87 L433.64,254.12 L433.64,254.36 L433.64,254.61 L433.64,254.85 L433.64,255.10 L433.64,255.34 L433.64,255.59 L433.65,255.84 L433.65,256.08 L433.65,256.33 L433.65,256.57 L433.65,256.82 L433.65,257.06 L433.65,257.31 L433.65,257.55 L433.65,257.80 L433.65,258.05 L433.65,258.29 L433.65,258.54 L433.65,258.78 L433.65,259.03 L433.65,259.27 L433.65,259.52 L433.65,259.76 L433.65,260.01 L433.65,260.25 L433.65,260.50 L433.65,260.75 L433.65,260.99 L433.65,261.24 L433.65,261.48 L433.65,261.73 L433.65,261.97 L433.65,262.22 L433.65,262.46 L433.65,262.71 L433.65,262.95 L433.65,263.20" stroke-dasharray="1.30 3.91"/>
<path d="M95.70,59.40 L96.10,59.40 L96.50,59.40 L96.90,59.41 L97.30,59.41 L97.70,59.41 L98.10,59.41 L98.50,59.41 L98.90,59.41 L99.30,59.41 L99.71,59.41 L100.11,59.41 L100.51,59.42 L100.91,59.42 L101.31,59.42 L101.71,59.42 L102.11,59.42 L102.51,59.42 L102.91,59.42 L103.31,59.42 L103.71,59.42 L104.11,59.43 L104.51,59.43 L104.91,59.43 L105.31,59.43 L105.71,59.43 L106.11,59.43 L106.51,59.43 L106.91,59.43 L107.32,59.44 L107.72,59.44 L108.12,59.44 L108.52,59.44 L108.92,59.44 L109.32,59.44 L109.72,59.44 L110.12,59.45 L110.52,59.45 L110.92,59.45 L111.32,59.45 L111.72,59.45 L112.12,59.45 L112.52,59.45 L112.92,59.46 L113.32,59.46 L113.72,59.46 L114.12,59.46 L114.52,59.46 L114.93,59.46 L115.33,59.47 L115.73,59.47 L116.13,59.47 L116.53,59.47 L116.93,59.47 L117.33,59.47 L117.73,59.48 L118.13,59.48 L118.53,59.48 L118.93,59.48 L119.33,59.48 L119.73,59.48 L120.13,59.49 L120.53,59.49 L120.93,59.49 L121.33,59.49 L121.73,59.49 L122.13,59.50 L122.54,59.50 L122.94,59.50 L123.34,59.50 L123.74,59.50 L124.14,59.51 L124.54,59.51 L124.94,59.51 L125.34,59.51 L125.74,59.51 L126.14,59.52 L126.54,59.52 L126.94,59.52 L127.34,59.52 L127.74,59.53 L128.14,59.53 L128.54,59.53 L128.94,59.53 L129.34,59.53 L129.75,59.54 L130.15,59.54 L130.55,59.54 L130.95,59.54 L131.35,59.55 L131.75,59.55 L132.15,59.55 L132.55,59.55 L132.95,59.56 L133.35,59.56 L133.75,59.56 L134.15,59.56 L134.55,59.57 L134.95,59.57 L135.35,59.57 L135.75,59.57 L136.15,59.58 L136.55,59.58 L136.95,59.58 L137.36,59.59 L137.76,59.59 L138.16,59.59 L138.56,59.59 L138.96,59.60 L139.36,59.60 L139.76,59.60 L140.16,59.61 L140.56,59.61 L140.96,59.61 L141.36,59.61 L141.76,59.62 L142.16,59.62 L142.56,59.62 L142.96,59.63 L143.36,59.63 L143.76,59.63 L144.16,59.64 L144.56,59.64 L144.97,59.64 L145.37,59.65 L145.77,59.65 L146.17,59.65 L146.57,59.66 L146.97,59.66 L147.37,59.67 L147.77,59.67 L148.17,59.67 L148.57,59.68 L148.97,59.68 L149.37,59.68 L149.77,59.69 L150.17,59.69 L150.57,59.70 L150.97,59.70 L151.37,59.70 L151.77,59.71 L152.17,59.71 L152.58,59.72 L152.98,59.72 L153.38,59.72 L153.78,59.73 L154.18,59.73 L154.58,59.74 L154.98,59.74 L155.38,59.74 L155.78,59.75 L156.18,59.75 L156.58,59.76 L156.98,59.76 L157.38,59.77 L157.78,59.77 L158.18,59.78 L158.58,59.78 L158.98,59.79 L159.38,59.79 L159.78,59.80 L160.19,59.80 L160.59,59.81 L160.99,59.81 L161.39,59.82 L161.79,59.82 L162.19,59.83 L162.59,59.83 L162.99,59.84 L163.39,59.84 L163.79,59.85 L164.19,59.85 L164.59,59.86 L164.99,59.86 L165.39,59.87 L165.79,59.88 L166.19,59.88 L166.59,59.89 L166.99,59.89 L167.39,59.90 L167.80,59.90 L168.20,59.91 L168.60,59.92 L169.00,59.92 L169.40,59.93 L169.80,59.94 L170.20,59.94 L170.60,59.95 L171.00,59.95 L171.40,59.96 L171.80,59.97 L172.20,59.97 L172.60,59.98 L173.00,59.99 L173.40,59.99 L173.80,60.00 L174.20,60.01 L174.60,60.02 L175.00,60.02 L175.41,60.03 L175.81,60.04 L176.21,60.04 L176.61,60.05 L177.01,60.06 L177.41,60.07 L177.81,60.07 L178.21,60.08 L178.61,60.09 L179.01,60.10 L179.41,60.11 L179.81,60.11 L180.21,60.12 L180.61,60.13 L181.01,60.14 L181.41,60.15 L181.81,60.16 L182.21,60.16 L182.62,60.17 L183.02,60.18 L183.42,60.19 L183.82,60.20 L184.22,60.21 L184.62,60.22 L185.02,60.23 L185.42,60.24 L185.82,60.25 L186.22,60.25 L186.62,60.26 L187.02,60.27 L187.42,60.28 L187.82,60.29 L188.22,60.30 L188.62,60.31 L189.02,60.32 L189.42,60.33 L189.82,60.34 L190.23,60.35 L190.63,60.36 L191.03,60.38 L191.43,60.39 L191.83,60.40 L192.23,60.41 L192.63,60.42 L193.03,60.43 L193.43,60.44 L193.83,60.45 L194.23,60.46 L194.63,60.48 L195.03,60.49 L195.43,60.50 L195.83,60.51 L196.23,60.52 L196.63,60.54 L197.03,60.55 L197.43,60.56 L197.84,60.57 L198.24,60.59 L198.64,60.60 L199.04,60.61 L199.44,60.63 L199.84,60.64 L200.24,60.65 L200.64,60.67 L201.04,60.68 L201.44,60.69 L201.84,60.71 L202.24,60.72 L202.64,60.74 L203.04,60.75 L203.44,60.77 L203.84,60.78 L204.24,60.80 L204.64,60.81 L205.04,60.83 L205.45,60.84 L205.85,60.86 L206.25,60.87 L206.65,60.89 L207.05,60.90 L207.45,60.92 L207.85,60.94 L208.25,60.95 L208.65,60.97 L209.05,60.99 L209.45,61.00 L209.85,61.02 L210.25,61.04 L210.65,61.06 L211.05,61.07 L211.45,61.09 L211.85,61.11 L212.25,61.13 L212.65,61.15 L213.06,61.16 L213.46,61.18 L213.86,61.20 L214.26,61.22 L214.66,61.24 L215.06,61.26 L215.46,61.28 L215.86,61.30 L216.26,61.32 L216.66,61.34 L217.06,61.36 L217.46,61.38 L217.86,61.40 L218.26,61.42 L218.66,61.45 L219.06,61.47 L219.46,61.49 L219.86,61.51 L220.26,61.53 L220.67,61.56 L221.07,61.58 L221.47,61.60 L221.87,61.63 L222.27,61.65 L222.67,61.67 L223.07,61.70 L223.47,61.72 L223.87,61.75 L224.27,61.77 L224.67,61.80 L225.07,61.82 L225.47,61.85 L225.87,61.87 L226.27,61.90 L226.67,61.93 L227.07,61.95 L227.47,61.98 L227.87,62.01 L228.28,62.03 L228.68,62.06 L229.08,62.09 L229.48,62.12 L229.88,62.15 L230.28,62.18 L230.68,62.21 L231.08,62.24 L231.48,62.27 L231.88,62.30 L232.28,62.33 L232.68,62.36 L233.08,62.39 L233.48,62.42 L233.88,62.45 L234.28,62.48 L234.68,62.52 L235.08,62.55 L235.48,62.58 L235.89,62.62 L236.29,62.65 L236.69,62.69 L237.09,62.72 L237.49,62.75 L237.89,62.79 L238.29,62.83 L238.69,62.86 L239.09,62.90 L239.49,62.94 L239.89,62.97 L240.29,63.01 L240.69,63.05 L241.09,63.09 L241.49,63.13 L241.89,63.17 L242.29,63.21 L242.69,63.25 L243.10,63.29 L243.50,63.33 L243.90,63.37 L244.30,63.41 L244.51,63.43" stroke-dasharray="7.10 7.65"/>
<path d="M244.51,63.43 L244.70,63.45 L245.10,63.50 L245.50,63.54 L245.90,63.58 L246.30,63.63 L246.70,63.67 L247.10,63.72 L247.50,63.77 L247.90,63.81 L248.30,63.86 L248.70,63.91 L249.10,63.95 L249.50,64.00 L249.90,64.05 L250.30,64.10 L250.71,64.15 L251.11,64.20 L251.51,64.25 L251.91,64.30 L252.31,64.36 L252.71,64.41 L253.11,64.46 L253.51,64.52 L253.91,64.57 L254.31,64.63 L254.71,64.68 L255.11,64.74 L255.51,64.79 L255.91,64.85 L256.31,64.91 L256.71,64.97 L257.11,65.03 L257.51,65.09 L257.91,65.15 L258.32,65.21 L258.49,65.24" stroke-dasharray="7.10 7.65"/>
<path d="M258.49,65.24 L258.72,65.27 L259.12,65.34 L259.52,65.40 L259.92,65.46 L260.32,65.53 L260.72,65.60 L261.12,65.66 L261.52,65.73 L261.92,65.80 L262.32,65.87 L262.72,65.94 L263.12,66.01 L263.52,66.08 L263.92,66.15 L264.32,66.22 L264.72,66.30 L265.12,66.37 L265.52,66.45 L265.93,66.52 L266.33,66.60 L266.73,66.68 L267.13,66.76 L267.53,66.84 L267.93,66.92 L268.33,67.00 L268.73,67.08 L269.13,67.17 L269.53,67.25 L269.93,67.34 L270.33,67.42 L270.73,67.51 L271.13,67.60 L271.53,67.69 L271.93,67.78 L271.98,67.79" stroke-dasharray="7.10 7.65"/>
<path d="M271.98,67.79 L272.33,67.87 L272.73,67.96 L273.13,68.06 L273.54,68.15 L273.94,68.25 L274.34,68.35 L274.74,68.45 L275.14,68.55 L275.54,68.65 L275.94,68.75 L276.34,68.85 L276.74,68.96 L277.14,69.06 L277.54,69.17 L277.94,69.28 L278.34,69.39 L278.74,69.50 L279.14,69.61 L279.54,69.73 L279.94,69.84 L280.34,69.96 L280.74,70.08 L281.15,70.20 L281.55,70.32 L281.95,70.44 L282.35,70.57 L282.75,70.69 L283.15,70.82 L283.55,70.95 L283.95,71.08 L284.35,71.21 L284.75,71.35 L285.14,71.48" stroke-dasharray="7.10 7.65"/>
<path d="M285.14,71.48 L285.15,71.48 L285.55,71.62 L285.95,71.76 L286.35,71.90 L286.75,72.04 L287.15,72.19 L287.55,72.33 L287.95,72.48 L288.35,72.63 L288.76,72.79 L289.16,72.94 L289.56,73.10 L289.96,73.26 L290.36,73.42 L290.76,73.58 L291.16,73.74 L291.56,73.91 L291.96,74.08 L292.36,74.25 L292.76,74.43 L293.16,74.60 L293.56,74.78 L293.96,74.96 L294.36,75.15 L294.76,75.33 L295.16,75.52 L295.56,75.72 L295.97,75.91 L296.37,76.11 L296.77,76.31 L297.17,76.51 L297.47,76.67" stroke-dasharray="7.10 7.65"/>
<path d="M297.47,76.67 L297.57,76.72 L297.97,76.93 L298.37,77.14 L298.77,77.35 L299.17,77.57 L299.57,77.79 L299.97,78.02 L300.30,78.20" stroke-dasharray="7.10 7.65"/>
<path d="M300.30,78.20 L300.37,78.25 L300.77,78.48 L301.17,78.71 L301.57,78.95 L301.97,79.19 L302.37,79.44 L302.77,79.69 L303.17,79.94 L303.58,80.20 L303.98,80.46 L304.38,80.73 L304.78,81.00 L305.18,81.27 L305.58,81.55 L305.98,81.83 L306.38,82.12 L306.78,82.41 L307.18,82.71 L307.58,83.01 L307.98,83.32 L308.38,83.63 L308.78,83.95 L309.18,84.27 L309.58,84.60 L309.98,84.93 L310.38,85.27 L310.78,85.62 L311.10,85.90" stroke-dasharray="7.10 7.65"/>
<path d="M311.10,85.90 L311.19,85.97 L311.59,86.33 L311.99,86.69 L312.39,87.07 L312.79,87.44 L313.19,87.83 L313.59,88.22 L313.99,88.62 L314.39,89.03 L314.79,89.45 L315.19,89.87 L315.59,90.30 L315.99,90.75 L316.39,91.20 L316.79,91.66 L317.19,92.12 L317.59,92.60 L317.99,93.09 L318.39,93.59 L318.80,94.10 L319.15,94.56" stroke-dasharray="7.10 7.65"/>
<path d="M319.15,94.56 L319.20,94.62 L319.60,95.16 L320.00,95.70 L320.40,96.26 L320.80,96.83 L321.20,97.41 L321.60,98.01 L322.00,98.63 L322.40,99.25 L322.80,99.90 L323.20,100.56 L323.60,101.24 L324.00,101.93 L324.40,102.65 L324.80,103.38 L325.20,104.14 L325.60,104.91 L326.00,105.71 L326.41,106.54 L326.73,107.24" stroke-dasharray="7.10 7.65"/>
<path d="M326.73,107.24 L326.81,107.39 L327.21,108.26 L327.61,109.17 L328.01,110.10 L328.41,111.07 L328.81,112.07 L329.21,113.10 L329.61,114.18 L330.01,115.29 L330.41,116.45 L330.81,117.66 L331.21,118.92 L331.53,119.96" stroke-dasharray="7.10 7.65"/>
<path d="M331.53,119.96 L331.61,120.23 L332.01,121.60 L332.41,123.04 L332.50,123.37" stroke-dasharray="7.10 7.65"/>
<path d="M332.50,123.37 L332.81,124.55 L333.21,126.15 L333.61,127.82 L334.02,129.60 L334.42,131.48 L334.82,133.49 L335.22,135.64 L335.29,136.08" stroke-dasharray="7.10 7.65"/>
<path d="M335.29,136.08 L335.62,137.95 L336.02,140.45 L336.05,140.69 L336.09,140.93 L336.13,141.16 L336.16,141.40 L336.20,141.64 L336.23,141.88 L336.27,142.11 L336.30,142.35 L336.34,142.59 L336.37,142.83 L336.40,143.07 L336.44,143.30 L336.47,143.54 L336.50,143.78 L336.54,144.02 L336.57,144.26 L336.60,144.49 L336.63,144.73 L336.66,144.97 L336.70,145.21 L336.73,145.45 L336.76,145.68 L336.79,145.92 L336.82,146.16 L336.85,146.40 L336.88,146.64 L336.91,146.87 L336.94,147.11 L336.97,147.35 L337.00,147.59 L337.03,147.82 L337.06,148.06 L337.08,148.30 L337.11,148.54 L337.14,148.78 L337.17,149.01 L337.20,149.25 L337.22,149.49 L337.25,149.73 L337.27,149.89" stroke-dasharray="7.10 7.65"/>
<path d="M337.27,149.89 L337.28,149.97 L337.30,150.20 L337.33,150.44 L337.36,150.68 L337.38,150.92 L337.41,151.16 L337.43,151.39 L337.46,151.63 L337.48,151.87 L337.51,152.11 L337.53,152.34 L337.56,152.58 L337.58,152.82 L337.61,153.06 L337.63,153.30 L337.66,153.53 L337.68,153.77 L337.70,154.01 L337.73,154.25 L337.75,154.49 L337.77,154.72 L337.80,154.96 L337.82,155.20 L337.84,155.44 L337.86,155.68 L337.88,155.91 L337.91,156.15 L337.93,156.39 L337.95,156.63 L337.97,156.86 L337.99,157.10 L338.01,157.34 L338.03,157.58 L338.06,157.82 L338.08,158.05 L338.10,158.29 L338.12,158.53 L338.14,158.77 L338.16,159.01 L338.18,159.24 L338.20,159.48 L338.21,159.72 L338.23,159.96 L338.25,160.20 L338.27,160.43 L338.29,160.67 L338.31,160.91 L338.33,161.15 L338.35,161.38 L338.36,161.62 L338.38,161.86 L338.40,162.10 L338.42,162.34 L338.44,162.57 L338.45,162.81 L338.47,163.05 L338.49,163.29 L338.50,163.53 L338.52,163.76 L338.54,164.00 L338.56,164.24 L338.56,164.29" stroke-dasharray="7.10 7.65"/>
<path d="M338.56,164.29 L338.57,164.48 L338.59,164.72 L338.60,164.95 L338.62,165.19 L338.64,165.43 L338.65,165.67 L338.67,165.90 L338.68,166.14 L338.70,166.38 L338.71,166.62 L338.73,166.86 L338.74,167.09 L338.76,167.33 L338.77,167.57 L338.79,167.81 L338.80,168.05 L338.82,168.28 L338.83,168.52 L338.85,168.76 L338.86,169.00 L338.87,169.24 L338.89,169.47 L338.90,169.71 L338.92,169.95 L338.93,170.19 L338.94,170.43 L338.96,170.66 L338.97,170.90 L338.98,171.14 L338.99,171.38 L339.01,171.61 L339.02,171.85 L339.03,172.09 L339.05,172.33 L339.06,172.57 L339.07,172.80 L339.08,173.04 L339.09,173.28 L339.11,173.52 L339.12,173.76 L339.13,173.99 L339.14,174.23 L339.15,174.47 L339.16,174.71 L339.18,174.95 L339.19,175.18 L339.20,175.42 L339.21,175.66 L339.22,175.90 L339.23,176.13 L339.24,176.37 L339.25,176.61 L339.26,176.85 L339.27,177.09 L339.28,177.32 L339.29,177.56 L339.31,177.80 L339.32,178.04 L339.33,178.28 L339.34,178.51 L339.35,178.75 L339.36,178.99 L339.36,179.23 L339.37,179.47 L339.38,179.70 L339.39,179.80" stroke-dasharray="7.10 7.65"/>
<path d="M339.39,179.80 L339.39,179.94 L339.40,180.18 L339.41,180.42 L339.42,180.65 L339.43,180.89 L339.44,181.13 L339.45,181.37 L339.46,181.61 L339.47,181.84 L339.47,182.08 L339.48,182.32 L339.49,182.56 L339.50,182.80 L339.51,183.03 L339.52,183.27 L339.53,183.51 L339.53,183.75 L339.54,183.99 L339.55,184.22 L339.56,184.46 L339.57,184.70 L339.57,184.94 L339.58,185.17 L339.59,185.41 L339.60,185.65 L339.60,185.89 L339.61,186.13 L339.62,186.36 L339.63,186.60 L339.63,186.84 L339.64,187.08 L339.65,187.32 L339.66,187.55 L339.66,187.79 L339.67,188.03 L339.68,188.27 L339.68,188.51 L339.69,188.74 L339.70,188.98 L339.70,189.22 L339.71,189.46 L339.72,189.70 L339.72,189.93 L339.73,190.17 L339.74,190.41 L339.74,190.65 L339.75,190.88 L339.75,191.12 L339.76,191.36 L339.77,191.60 L339.77,191.84 L339.78,192.07 L339.78,192.31 L339.79,192.55 L339.80,192.79 L339.80,193.03 L339.81,193.26 L339.81,193.50 L339.82,193.74 L339.82,193.98 L339.83,194.22 L339.83,194.45 L339.84,194.69 L339.84,194.70" stroke-dasharray="7.10 7.65"/>
<path d="M339.84,194.70 L339.85,194.93 L339.85,195.17 L339.86,195.40 L339.86,195.64 L339.87,195.88 L339.87,196.12 L339.88,196.36 L339.88,196.59 L339.89,196.83 L339.89,197.07 L339.90,197.31 L339.90,197.55 L339.90,197.78 L339.91,198.02 L339.91,198.26 L339.92,198.50 L339.92,198.74 L339.93,198.97 L339.93,199.21 L339.94,199.45 L339.94,199.69 L339.95,199.92 L339.95,200.16 L339.95,200.40 L339.96,200.64 L339.96,200.88 L339.97,201.11 L339.97,201.35 L339.97,201.59 L339.98,201.83 L339.98,202.07 L339.99,202.30 L339.99,202.54 L339.99,202.78 L340.00,203.02 L340.00,203.26 L340.00,203.49 L340.01,203.73 L340.01,203.97 L340.02,204.21 L340.02,204.44 L340.02,204.68 L340.03,204.92 L340.03,205.16 L340.03,205.40 L340.04,205.63 L340.04,205.87 L340.04,206.11 L340.05,206.35 L340.05,206.59 L340.05,206.82 L340.06,207.06 L340.06,207.30 L340.06,207.54 L340.06,207.78 L340.07,208.01 L340.07,208.25 L340.07,208.49 L340.08,208.73 L340.08,208.97 L340.08,209.20 L340.08,209.40" stroke-dasharray="7.10 7.65"/>
<path d="M340.08,209.40 L340.09,209.44 L340.09,209.68 L340.09,209.92 L340.09,210.15 L340.10,210.39 L340.10,210.63 L340.10,210.87 L340.10,211.11 L340.11,211.34 L340.11,211.58 L340.11,211.82 L340.11,212.06 L340.12,212.30 L340.12,212.53 L340.12,212.77 L340.12,213.01 L340.13,213.25 L340.13,213.49 L340.13,213.72 L340.13,213.96 L340.14,214.20 L340.14,214.44 L340.14,214.67 L340.14,214.91 L340.14,215.15 L340.15,215.39 L340.15,215.63 L340.15,215.86 L340.15,216.10 L340.16,216.34 L340.16,216.58 L340.16,216.82 L340.16,217.05 L340.16,217.29 L340.17,217.53 L340.17,217.77 L340.17,218.01 L340.17,218.24 L340.17,218.48 L340.17,218.72 L340.18,218.96 L340.18,219.19 L340.18,219.43 L340.18,219.67 L340.18,219.91 L340.19,220.15 L340.19,220.38 L340.19,220.62 L340.19,220.86 L340.19,221.10 L340.19,221.34 L340.20,221.57 L340.20,221.81 L340.20,222.05 L340.20,222.29 L340.20,222.53 L340.20,222.76 L340.20,223.00 L340.21,223.24 L340.21,223.48 L340.21,223.71 L340.21,223.95 L340.21,224.19 L340.21,224.20" stroke-dasharray="7.10 7.65"/>
<path d="M340.21,224.20 L340.21,224.43 L340.21,224.67 L340.22,224.90 L340.22,225.14 L340.22,225.38 L340.22,225.62 L340.22,225.86 L340.22,226.09 L340.22,226.33 L340.22,226.57 L340.23,226.81 L340.23,227.05 L340.23,227.28 L340.23,227.52 L340.23,227.76 L340.23,228.00 L340.23,228.23 L340.23,228.47 L340.23,228.71 L340.24,228.95 L340.24,229.19 L340.24,229.42 L340.24,229.66 L340.24,229.90 L340.24,230.14 L340.24,230.38 L340.24,230.61 L340.24,230.85 L340.24,231.09 L340.25,231.33 L340.25,231.57 L340.25,231.80 L340.25,232.04 L340.25,232.28 L340.25,232.52 L340.25,232.76 L340.25,232.99 L340.25,233.23 L340.25,233.47 L340.25,233.71 L340.26,233.94 L340.26,234.18 L340.26,234.42 L340.26,234.66 L340.26,234.90 L340.26,235.13 L340.26,235.37 L340.26,235.61 L340.26,235.85 L340.26,236.09 L340.26,236.32 L340.26,236.56 L340.26,236.80 L340.27,237.04 L340.27,237.28 L340.27,237.51 L340.27,237.75 L340.27,237.99 L340.27,238.23 L340.27,238.46 L340.27,238.70 L340.27,238.94 L340.27,239.00" stroke-dasharray="7.10 7.65"/>
<path d="M340.27,239.00 L340.27,239.18 L340.27,239.42 L340.27,239.65 L340.27,239.89 L340.27,240.13 L340.27,240.37 L340.27,240.61 L340.28,240.84 L340.28,241.08 L340.28,241.32 L340.28,241.56 L340.28,241.80 L340.28,242.03 L340.28,242.27 L340.28,242.51 L340.28,242.75 L340.28,242.98 L340.28,243.22 L340.28,243.46 L340.28,243.70 L340.28,243.94 L340.28,244.17 L340.28,244.41 L340.28,244.65 L340.28,244.89 L340.28,245.13 L340.28,245.36 L340.28,245.60 L340.29,245.84 L340.29,246.08 L340.29,246.32 L340.29,246.55 L340.29,246.79 L340.29,247.03 L340.29,247.27 L340.29,247.50 L340.29,247.74 L340.29,247.98 L340.29,248.22 L340.29,248.46 L340.29,248.69 L340.29,248.93 L340.29,249.17 L340.29,249.41 L340.29,249.65 L340.29,249.88 L340.29,250.12 L340.29,250.36 L340.29,250.60 L340.29,250.84 L340.29,251.07 L340.29,251.31 L340.29,251.55 L340.29,251.79 L340.29,252.03 L340.29,252.26 L340.29,252.50 L340.29,252.74 L340.29,252.98 L340.29,253.21 L340.30,253.45 L340.30,253.69 L340.30,253.70" stroke-dasharray="7.10 7.65"/>
<path d="M340.30,253.70 L340.30,253.93 L340.30,254.17 L340.30,254.40 L340.30,254.64 L340.30,254.88 L340.30,255.12 L340.30,255.36 L340.30,255.59 L340.30,255.83 L340.30,256.07 L340.30,256.31 L340.30,256.55 L340.30,256.78 L340.30,257.02 L340.30,257.26 L340.30,257.50 L340.30,257.73 L340.30,257.97 L340.30,258.21 L340.30,258.45 L340.30,258.69 L340.30,258.92 L340.30,259.16 L340.30,259.40" stroke-dasharray="7.10 7.65"/>
<path d="M95.70,60.33 L95.94,60.33 L96.19,60.34 L96.43,60.34 L96.68,60.35 L96.92,60.36 L97.17,60.36 L97.41,60.37 L97.66,60.38 L97.90,60.38 L98.15,60.39 L98.39,60.40 L98.64,60.40 L98.88,60.41 L99.13,60.42 L99.37,60.42 L99.62,60.43 L99.86,60.44 L100.11,60.44 L100.35,60.45 L100.60,60.46 L100.84,60.47 L101.09,60.47 L101.33,60.48 L101.58,60.49 L101.82,60.49 L102.07,60.50 L102.31,60.51 L102.56,60.52 L102.80,60.52 L103.05,60.53 L103.29,60.54 L103.54,60.55 L103.78,60.55 L104.03,60.56 L104.27,60.57 L104.52,60.58 L104.76,60.58 L105.00,60.59 L105.25,60.60 L105.49,60.61 L105.74,60.62 L105.98,60.62 L106.23,60.63 L106.47,60.64 L106.72,60.65 L106.96,60.66 L107.21,60.67 L107.45,60.67 L107.70,60.68 L107.94,60.69 L108.19,60.70 L108.43,60.71 L108.68,60.72 L108.92,60.73 L109.17,60.73 L109.41,60.74 L109.66,60.75 L109.90,60.76 L110.15,60.77 L110.39,60.78 L110.64,60.79 L110.88,60.80 L111.13,60.81 L111.37,60.82 L111.62,60.82 L111.86,60.83 L112.11,60.84 L112.35,60.85 L112.60,60.86 L112.84,60.87 L113.09,60.88 L113.33,60.89 L113.58,60.90 L113.82,60.91 L114.06,60.92 L114.31,60.93 L114.55,60.94 L114.80,60.95 L115.04,60.96 L115.29,60.97 L115.53,60.98 L115.78,60.99 L116.02,61.00 L116.27,61.01 L116.51,61.02 L116.76,61.03 L117.00,61.04 L117.25,61.05 L117.49,61.07 L117.74,61.08 L117.98,61.09 L118.23,61.10 L118.47,61.11 L118.72,61.12 L118.96,61.13 L119.21,61.14 L119.45,61.15 L119.70,61.17 L119.94,61.18 L120.19,61.19 L120.43,61.20 L120.68,61.21 L120.92,61.22 L121.17,61.24 L121.41,61.25 L121.66,61.26 L121.90,61.27 L122.15,61.28 L122.39,61.30 L122.63,61.31 L122.88,61.32 L123.12,61.33 L123.37,61.35 L123.61,61.36 L123.86,61.37 L124.10,61.38 L124.35,61.40 L124.59,61.41 L124.84,61.42 L125.08,61.44 L125.33,61.45 L125.57,61.46 L125.82,61.48 L126.06,61.49 L126.31,61.50 L126.55,61.52 L126.80,61.53 L127.04,61.54 L127.29,61.56 L127.53,61.57 L127.78,61.59 L128.02,61.60 L128.27,61.61 L128.51,61.63 L128.76,61.64 L129.00,61.66 L129.25,61.67 L129.49,61.69 L129.74,61.70 L129.98,61.72 L130.23,61.73 L130.47,61.75 L130.72,61.76 L130.96,61.78 L131.21,61.79 L131.45,61.81 L131.69,61.82 L131.94,61.84 L132.18,61.85 L132.43,61.87 L132.67,61.89 L132.92,61.90 L133.16,61.92 L133.41,61.94 L133.65,61.95 L133.90,61.97 L134.14,61.98 L134.39,62.00 L134.63,62.02 L134.88,62.03 L135.12,62.05 L135.37,62.07 L135.61,62.09 L135.86,62.10 L136.10,62.12 L136.35,62.14 L136.59,62.16 L136.84,62.17 L137.08,62.19 L137.33,62.21 L137.57,62.23 L137.82,62.25 L138.06,62.26 L138.31,62.28 L138.55,62.30 L138.80,62.32 L139.04,62.34 L139.29,62.36 L139.53,62.38 L139.78,62.40 L140.02,62.42 L140.27,62.43 L140.51,62.45 L140.75,62.47 L141.00,62.49 L141.24,62.51 L141.49,62.53 L141.73,62.55 L141.98,62.57 L142.22,62.59 L142.47,62.62 L142.71,62.64 L142.96,62.66 L143.20,62.68 L143.45,62.70 L143.69,62.72 L143.94,62.74 L144.18,62.76 L144.43,62.79 L144.67,62.81 L144.92,62.83 L145.16,62.85 L145.41,62.87 L145.65,62.90 L145.90,62.92 L146.14,62.94 L146.39,62.96 L146.63,62.99 L146.88,63.01 L147.12,63.03 L147.37,63.06 L147.61,63.08 L147.86,63.10 L148.10,63.13 L148.35,63.15 L148.59,63.18 L148.84,63.20 L149.08,63.23 L149.33,63.25 L149.57,63.27 L149.81,63.30 L150.06,63.32 L150.30,63.35 L150.55,63.38 L150.79,63.40 L151.04,63.43 L151.28,63.45 L151.53,63.48 L151.77,63.51 L152.02,63.53 L152.26,63.56 L152.51,63.59 L152.75,63.61 L153.00,63.64 L153.24,63.67 L153.49,63.70 L153.73,63.72 L153.98,63.75 L154.22,63.78 L154.47,63.81 L154.71,63.84 L154.96,63.87 L155.20,63.89 L155.45,63.92 L155.69,63.95 L155.94,63.98 L156.18,64.01 L156.43,64.04 L156.67,64.07 L156.92,64.10 L157.16,64.13 L157.41,64.16 L157.65,64.19 L157.90,64.23 L158.14,64.26 L158.39,64.29 L158.63,64.32 L158.87,64.35 L159.12,64.38 L159.36,64.42 L159.61,64.45 L159.85,64.48 L160.10,64.51 L160.34,64.55 L160.59,64.58 L160.83,64.62 L161.08,64.65 L161.32,64.68 L161.57,64.72 L161.81,64.75 L162.06,64.79 L162.30,64.82 L162.55,64.86 L162.79,64.89 L163.04,64.93 L163.28,64.97 L163.53,65.00 L163.77,65.04 L164.02,65.07 L164.26,65.11 L164.51,65.15 L164.75,65.19 L165.00,65.22 L165.24,65.26 L165.49,65.30 L165.73,65.34 L165.98,65.38 L166.22,65.42 L166.47,65.46 L166.71,65.50 L166.96,65.54 L167.20,65.58 L167.44,65.62 L167.69,65.66 L167.93,65.70 L168.18,65.74 L168.42,65.78 L168.67,65.82 L168.91,65.87 L169.16,65.91 L169.40,65.95 L169.65,65.99 L169.89,66.04 L170.14,66.08 L170.38,66.13 L170.63,66.17 L170.87,66.21 L171.12,66.26 L171.36,66.30 L171.61,66.35 L171.85,66.40 L172.10,66.44 L172.34,66.49 L172.59,66.54 L172.83,66.58 L173.08,66.63 L173.32,66.68 L173.57,66.73 L173.81,66.77 L174.06,66.82 L174.30,66.87 L174.55,66.92 L174.79,66.97 L175.04,67.02 L175.28,67.07 L175.53,67.12 L175.77,67.18 L176.02,67.23 L176.26,67.28 L176.50,67.33 L176.75,67.38 L176.99,67.44 L177.24,67.49 L177.48,67.55 L177.73,67.60 L177.97,67.65" stroke-dasharray="7.00 3.70 1.50 4.30"/>
<path d="M177.97,67.65 L177.97,67.65 L178.22,67.71 L178.46,67.76 L178.71,67.82 L178.95,67.88 L179.20,67.93 L179.44,67.99 L179.69,68.05 L179.93,68.11 L180.18,68.17 L180.42,68.22 L180.67,68.28 L180.91,68.34 L181.16,68.40 L181.40,68.46 L181.65,68.52 L181.89,68.59 L182.14,68.65 L182.38,68.71 L182.49,68.74" stroke-dasharray="7.00 3.70 1.50 4.30"/>
<path d="M182.49,68.74 L182.63,68.77 L182.87,68.84 L183.12,68.90 L183.36,68.96 L183.61,69.03 L183.85,69.09 L184.10,69.16 L184.34,69.23 L184.59,69.29 L184.83,69.36 L185.08,69.43 L185.32,69.50 L185.56,69.56 L185.81,69.63 L186.05,69.70 L186.30,69.77 L186.54,69.84 L186.79,69.92 L187.03,69.99 L187.28,70.06 L187.52,70.13 L187.77,70.21 L188.01,70.28 L188.26,70.35 L188.50,70.43 L188.75,70.51 L188.99,70.58 L189.24,70.66 L189.48,70.74 L189.73,70.81 L189.97,70.89 L190.22,70.97 L190.46,71.05 L190.71,71.13 L190.95,71.21 L191.20,71.30 L191.44,71.38 L191.69,71.46 L191.93,71.54 L192.18,71.63 L192.42,71.71 L192.67,71.80 L192.91,71.89 L193.16,71.97 L193.40,72.06 L193.65,72.15 L193.89,72.24 L194.14,72.33 L194.38,72.42 L194.62,72.51 L194.87,72.60 L195.11,72.69 L195.36,72.79 L195.60,72.88 L195.85,72.98 L196.09,73.07 L196.34,73.17 L196.58,73.27 L196.83,73.37 L197.07,73.46 L197.32,73.56 L197.45,73.62" stroke-dasharray="7.00 3.70 1.50 4.30"/>
<path d="M197.45,73.62 L197.56,73.66 L197.81,73.77 L198.05,73.87 L198.30,73.97 L198.54,74.07 L198.79,74.18 L199.03,74.29 L199.28,74.39 L199.52,74.50 L199.77,74.61 L200.01,74.72 L200.26,74.83 L200.50,74.94 L200.75,75.05 L200.99,75.16 L201.24,75.28 L201.48,75.39 L201.73,75.51 L201.97,75.62 L202.22,75.74 L202.46,75.86 L202.71,75.98 L202.95,76.10 L203.20,76.22 L203.44,76.35 L203.68,76.47 L203.93,76.60 L204.17,76.72 L204.42,76.85 L204.66,76.98 L204.91,77.11 L205.15,77.24 L205.40,77.37 L205.64,77.50 L205.89,77.64 L206.13,77.77 L206.38,77.91 L206.62,78.05 L206.87,78.19 L207.11,78.33 L207.36,78.47 L207.60,78.61 L207.85,78.76 L208.09,78.90 L208.34,79.05 L208.58,79.20 L208.83,79.35 L209.07,79.50 L209.32,79.65 L209.38,79.69" stroke-dasharray="7.00 3.70 1.50 4.30"/>
<path d="M209.38,79.69 L209.56,79.81 L209.81,79.96 L210.05,80.12 L210.30,80.28 L210.54,80.44 L210.79,80.60 L211.03,80.76 L211.28,80.93 L211.52,81.09 L211.77,81.26 L212.01,81.43 L212.25,81.60 L212.50,81.78 L212.74,81.95 L212.99,82.13 L213.23,82.31 L213.48,82.49 L213.72,82.67 L213.97,82.85 L214.21,83.04 L214.46,83.22 L214.70,83.41 L214.95,83.61 L215.19,83.80 L215.44,83.99 L215.68,84.19 L215.93,84.39 L216.17,84.59 L216.42,84.80 L216.66,85.00 L216.91,85.21 L217.15,85.42 L217.40,85.63 L217.64,85.85 L217.89,86.06 L218.13,86.28 L218.38,86.50 L218.62,86.73 L218.87,86.96 L219.11,87.19 L219.36,87.42 L219.60,87.65 L219.85,87.89 L220.09,88.13 L220.34,88.37 L220.58,88.62 L220.83,88.87 L220.88,88.92" stroke-dasharray="7.00 3.70 1.50 4.30"/>
<path d="M220.88,88.92 L221.07,89.12 L221.31,89.37 L221.56,89.63 L221.80,89.89 L222.05,90.15 L222.29,90.42 L222.54,90.69 L222.78,90.96 L223.03,91.24 L223.27,91.52 L223.52,91.81 L223.76,92.09 L224.01,92.38 L224.25,92.68 L224.50,92.98 L224.74,93.28 L224.99,93.59 L225.23,93.90 L225.48,94.21 L225.72,94.53 L225.97,94.85 L226.21,95.18 L226.46,95.51 L226.70,95.85 L226.95,96.19 L227.19,96.54 L227.44,96.89 L227.68,97.25 L227.93,97.61 L228.17,97.98 L228.42,98.35 L228.66,98.73 L228.91,99.11 L229.15,99.50 L229.18,99.55" stroke-dasharray="7.00 3.70 1.50 4.30"/>
<path d="M229.18,99.55 L229.40,99.90 L229.64,100.30 L229.89,100.70 L230.13,101.12 L230.37,101.54 L230.62,101.97 L230.86,102.40 L231.11,102.85 L231.35,103.30 L231.60,103.75 L231.84,104.22 L232.09,104.69 L232.33,105.18 L232.58,105.67 L232.82,106.17 L233.07,106.68 L233.31,107.19 L233.56,107.72 L233.80,108.26 L234.05,108.81 L234.29,109.37 L234.54,109.94 L234.78,110.53 L235.03,111.12 L235.27,111.73 L235.38,112.01" stroke-dasharray="7.00 3.70 1.50 4.30"/>
<path d="M235.38,112.01 L235.52,112.35 L235.76,112.99 L236.01,113.64 L236.25,114.30 L236.50,114.98 L236.74,115.68 L236.99,116.39 L237.23,117.12 L237.48,117.87 L237.72,118.64 L237.97,119.42 L238.21,120.23 L238.46,121.07 L238.70,121.92 L238.95,122.80 L239.19,123.71 L239.43,124.65 L239.68,125.61 L239.92,126.59" stroke-dasharray="7.00 3.70 1.50 4.30"/>
<path d="M239.92,126.59 L239.92,126.61 L240.17,127.64 L240.41,128.71 L240.66,129.81 L240.90,130.96 L241.15,132.15 L241.39,133.39 L241.64,134.68 L241.88,136.03 L242.13,137.44 L242.37,138.92 L242.62,140.47 L242.66,140.72 L242.69,140.97 L242.73,141.22 L242.77,141.47 L242.81,141.72 L242.84,141.96 L242.88,142.21 L242.91,142.46 L242.95,142.71 L242.99,142.96 L243.02,143.17" stroke-dasharray="7.00 3.70 1.50 4.30"/>
<path d="M243.02,143.17 L243.02,143.21 L243.06,143.46 L243.09,143.71 L243.13,143.96 L243.16,144.21 L243.19,144.46 L243.23,144.71 L243.26,144.96 L243.29,145.21 L243.33,145.45 L243.36,145.70 L243.39,145.95 L243.42,146.20 L243.45,146.45 L243.49,146.70 L243.52,146.95 L243.55,147.20 L243.58,147.45 L243.61,147.70 L243.64,147.95 L243.67,148.20 L243.70,148.45 L243.73,148.69 L243.76,148.94 L243.79,149.19 L243.81,149.44 L243.84,149.69 L243.87,149.94 L243.90,150.19 L243.93,150.44 L243.95,150.69 L243.98,150.94 L244.01,151.19 L244.04,151.44 L244.06,151.69 L244.09,151.94 L244.11,152.18 L244.14,152.43 L244.17,152.68 L244.19,152.93 L244.22,153.18 L244.24,153.43 L244.27,153.68 L244.29,153.93 L244.32,154.18 L244.34,154.43 L244.37,154.68 L244.39,154.93 L244.41,155.18 L244.44,155.42 L244.46,155.67 L244.48,155.92 L244.51,156.17 L244.53,156.42 L244.55,156.67 L244.57,156.92 L244.60,157.17 L244.62,157.42 L244.64,157.67 L244.66,157.92 L244.68,158.17 L244.70,158.42 L244.72,158.67 L244.75,158.91 L244.75,159.00" stroke-dasharray="7.00 3.70 1.50 4.30"/>
<path d="M244.75,159.00 L244.77,159.16 L244.79,159.41 L244.81,159.66 L244.83,159.91 L244.85,160.16 L244.87,160.41 L244.89,160.66 L244.91,160.91 L244.93,161.16 L244.94,161.41 L244.96,161.66 L244.98,161.91 L245.00,162.15 L245.02,162.40 L245.04,162.65 L245.06,162.90 L245.07,163.15 L245.09,163.40 L245.11,163.65 L245.13,163.90 L245.15,164.15 L245.16,164.40 L245.18,164.65 L245.20,164.90 L245.21,165.15 L245.23,165.40 L245.25,165.64 L245.26,165.89 L245.28,166.14 L245.30,166.39 L245.31,166.64 L245.33,166.89 L245.34,167.14 L245.36,167.39 L245.38,167.64 L245.39,167.89 L245.41,168.14 L245.42,168.39 L245.44,168.64 L245.45,168.88 L245.47,169.13 L245.48,169.38 L245.49,169.63 L245.51,169.88 L245.52,170.13 L245.54,170.38 L245.55,170.63 L245.56,170.88 L245.58,171.13 L245.59,171.38 L245.61,171.63 L245.62,171.88 L245.63,172.13 L245.64,172.37 L245.66,172.62 L245.67,172.87 L245.68,173.12 L245.70,173.37 L245.71,173.62 L245.72,173.87 L245.73,174.12 L245.75,174.37 L245.76,174.62 L245.77,174.87 L245.78,175.12 L245.79,175.37 L245.80,175.61 L245.82,175.86 L245.82,176.00" stroke-dasharray="7.00 3.70 1.50 4.30"/>
<path d="M245.82,176.00 L245.83,176.11 L245.84,176.36 L245.85,176.61 L245.86,176.86 L245.87,177.11 L245.88,177.36 L245.89,177.61 L245.90,177.86 L245.92,178.11 L245.93,178.36 L245.94,178.61 L245.95,178.86 L245.96,179.10 L245.97,179.35 L245.98,179.60 L245.99,179.85 L246.00,180.10 L246.01,180.35 L246.02,180.60 L246.03,180.85 L246.04,181.10 L246.04,181.35 L246.05,181.60 L246.06,181.85 L246.07,182.10 L246.08,182.35 L246.09,182.59 L246.10,182.84 L246.11,183.09 L246.12,183.34 L246.13,183.59 L246.13,183.84 L246.14,184.09 L246.15,184.34 L246.16,184.59 L246.17,184.84 L246.18,185.09 L246.18,185.34 L246.19,185.59 L246.20,185.83 L246.21,186.08 L246.22,186.33 L246.22,186.58 L246.23,186.83 L246.24,187.08 L246.25,187.33 L246.25,187.58 L246.26,187.83 L246.27,188.08 L246.28,188.33 L246.28,188.58 L246.29,188.83 L246.30,189.08 L246.30,189.32 L246.31,189.57 L246.32,189.82 L246.32,190.07 L246.33,190.32 L246.34,190.57 L246.34,190.82 L246.35,191.07 L246.36,191.32 L246.36,191.57 L246.37,191.82 L246.38,192.07 L246.38,192.32 L246.39,192.56 L246.39,192.71" stroke-dasharray="7.00 3.70 1.50 4.30"/>
<path d="M246.39,192.71 L246.39,192.81 L246.40,193.06 L246.41,193.31 L246.41,193.56 L246.42,193.81 L246.42,194.06 L246.43,194.31 L246.43,194.56 L246.44,194.81 L246.45,195.06 L246.45,195.31 L246.46,195.56 L246.46,195.81 L246.47,196.05 L246.47,196.30 L246.48,196.55 L246.48,196.80 L246.49,197.05 L246.49,197.30 L246.50,197.55 L246.50,197.80 L246.51,198.05 L246.51,198.30 L246.52,198.55 L246.52,198.80 L246.53,199.05 L246.53,199.29 L246.54,199.54 L246.54,199.79 L246.54,200.04 L246.55,200.29 L246.55,200.54 L246.56,200.79 L246.56,201.04 L246.57,201.29 L246.57,201.54 L246.57,201.79 L246.58,202.04 L246.58,202.29 L246.59,202.54 L246.59,202.78 L246.59,203.03 L246.60,203.28 L246.60,203.53 L246.61,203.78 L246.61,204.03 L246.61,204.28 L246.62,204.53 L246.62,204.78 L246.62,205.03 L246.63,205.28 L246.63,205.53 L246.64,205.78 L246.64,206.02 L246.64,206.27 L246.65,206.52 L246.65,206.77 L246.65,207.02 L246.66,207.27 L246.66,207.52 L246.66,207.77 L246.66,208.02 L246.67,208.27 L246.67,208.52 L246.67,208.77 L246.68,209.02 L246.68,209.10" stroke-dasharray="7.00 3.70 1.50 4.30"/>
<path d="M246.68,209.10 L246.68,209.27 L246.68,209.51 L246.69,209.76 L246.69,210.01 L246.69,210.26 L246.69,210.51 L246.70,210.76 L246.70,211.01 L246.70,211.26 L246.71,211.51 L246.71,211.76 L246.71,212.01 L246.71,212.26 L246.72,212.51 L246.72,212.76 L246.72,213.00 L246.72,213.25 L246.73,213.50 L246.73,213.75 L246.73,214.00 L246.73,214.25 L246.74,214.50 L246.74,214.75 L246.74,215.00 L246.74,215.25 L246.74,215.50 L246.75,215.75 L246.75,216.00 L246.75,216.24 L246.75,216.49 L246.76,216.74 L246.76,216.99 L246.76,217.24 L246.76,217.49 L246.76,217.74 L246.77,217.99 L246.77,218.24 L246.77,218.49 L246.77,218.74 L246.77,218.99 L246.78,219.24 L246.78,219.49 L246.78,219.73 L246.78,219.98 L246.78,220.23 L246.78,220.48 L246.79,220.73 L246.79,220.98 L246.79,221.23 L246.79,221.48 L246.79,221.73 L246.79,221.98 L246.80,222.23 L246.80,222.48 L246.80,222.73 L246.80,222.97 L246.80,223.22 L246.80,223.47 L246.81,223.72 L246.81,223.97 L246.81,224.22 L246.81,224.47 L246.81,224.72 L246.81,224.97 L246.81,225.22 L246.82,225.47 L246.82,225.72 L246.82,225.97 L246.82,226.20" stroke-dasharray="7.00 3.70 1.50 4.30"/>
<path d="M246.82,226.20 L246.82,226.22 L246.82,226.46 L246.82,226.71 L246.82,226.96 L246.82,227.21 L246.83,227.46 L246.83,227.71 L246.83,227.96 L246.83,228.21 L246.83,228.46 L246.83,228.71 L246.83,228.96 L246.83,229.21 L246.84,229.46 L246.84,229.70 L246.84,229.95 L246.84,230.20 L246.84,230.45 L246.84,230.70 L246.84,230.95 L246.84,231.20 L246.84,231.45 L246.84,231.70 L246.85,231.95 L246.85,232.20 L246.85,232.45 L246.85,232.70 L246.85,232.95 L246.85,233.19 L246.85,233.44 L246.85,233.69 L246.85,233.94 L246.85,234.19 L246.85,234.44 L246.86,234.69 L246.86,234.94 L246.86,235.19 L246.86,235.44 L246.86,235.69 L246.86,235.94 L246.86,236.19 L246.86,236.43 L246.86,236.68 L246.86,236.93 L246.86,237.18 L246.86,237.43 L246.86,237.68 L246.86,237.93 L246.87,238.18 L246.87,238.43 L246.87,238.68 L246.87,238.93 L246.87,239.18 L246.87,239.43 L246.87,239.68 L246.87,239.92 L246.87,240.17 L246.87,240.42 L246.87,240.67 L246.87,240.92 L246.87,241.17 L246.87,241.42 L246.87,241.67 L246.87,241.92 L246.88,242.17 L246.88,242.42 L246.88,242.67 L246.88,242.70" stroke-dasharray="7.00 3.70 1.50 4.30"/>
<path d="M246.88,242.70 L246.88,242.92 L246.88,243.16 L246.88,243.41 L246.88,243.66 L246.88,243.91 L246.88,244.16 L246.88,244.41 L246.88,244.66 L246.88,244.91 L246.88,245.16 L246.88,245.41 L246.88,245.66 L246.88,245.91 L246.88,246.16 L246.88,246.41 L246.88,246.65 L246.88,246.90 L246.88,247.15 L246.88,247.40 L246.88,247.65 L246.89,247.90 L246.89,248.15 L246.89,248.40 L246.89,248.65 L246.89,248.90 L246.89,249.15 L246.89,249.40 L246.89,249.65 L246.89,249.90 L246.89,250.14 L246.89,250.39 L246.89,250.64 L246.89,250.89 L246.89,251.14 L246.89,251.39 L246.89,251.64 L246.89,251.89 L246.89,252.14 L246.89,252.39 L246.89,252.64 L246.89,252.89 L246.89,253.14 L246.89,253.38 L246.89,253.63 L246.89,253.88 L246.89,254.13 L246.89,254.38 L246.89,254.63 L246.89,254.88 L246.89,255.13 L246.89,255.38 L246.89,255.63 L246.89,255.88 L246.89,256.13 L246.89,256.38 L246.89,256.63 L246.90,256.87 L246.90,257.12 L246.90,257.37 L246.90,257.62 L246.90,257.87 L246.90,258.12 L246.90,258.37 L246.90,258.62 L246.90,258.87 L246.90,259.00" stroke-dasharray="7.00 3.70 1.50 4.30"/>
<path d="M246.90,259.00 L246.90,259.12 L246.90,259.37 L246.90,259.62 L246.90,259.87 L246.90,260.11 L246.90,260.36 L246.90,260.61 L246.90,260.86 L246.90,261.11 L246.90,261.36 L246.90,261.61 L246.90,261.86 L246.90,262.11 L246.90,262.36 L246.90,262.61 L246.90,262.86 L246.90,263.11 L246.90,263.36 L246.90,263.60 L246.90,263.85 L246.90,264.10 L246.90,264.35 L246.90,264.60 L246.90,264.85 L246.90,265.10" stroke-dasharray="7.00 3.70 1.50 4.30"/>
</g>
<g font-family="Liberation Sans, Arial, sans-serif" font-size="20.5" fill="#000" stroke="#000" stroke-width="0.4">
<text x="88.8" y="17.7" text-anchor="end">0.020</text>
<text x="88.8" y="93.0" text-anchor="end">0.015</text>
<text x="88.8" y="175.9" text-anchor="end">0.010</text>
<text x="88.8" y="258.3" text-anchor="end">0.005</text>
<text x="88.8" y="332.0" text-anchor="end">0.000</text>
<text x="95.7" y="360.2" text-anchor="middle">0.1</text>
<text x="189.3" y="360.2" text-anchor="middle">1.0</text>
<text x="282.9" y="360.2" text-anchor="middle">10.0</text>
<text x="376.4" y="360.2" text-anchor="middle">100.0</text>
<text x="470.0" y="360.2" text-anchor="middle">1000.0</text>
<text x="563.6" y="360.2" text-anchor="middle">10000.0</text>
<text x="330" y="389.7" text-anchor="middle">Remaining Lifetime (Myr)</text>
<text transform="translate(15.3,163.9) rotate(-90)" text-anchor="middle" font-size="20">a (AU)</text>
<text x="234.4" y="290.6">10<tspan font-size="12" dy="-11.6">6</tspan></text>
<text x="328.2" y="290.6">10<tspan font-size="12" dy="-11.6">7</tspan></text>
<text x="421.7" y="290.6">10<tspan font-size="12" dy="-11.6">8</tspan></text>
<text x="515.1" y="290.6">10<tspan font-size="12" dy="-11.6">9</tspan></text>
</g>
<g fill="#fff" stroke="none">
<rect x="66.33" y="90.27" width="4.54" height="4.93"/>
<rect x="73.19" y="90.27" width="4.18" height="4.93"/>
<rect x="66.33" y="173.17" width="4.54" height="4.93"/>
<rect x="73.19" y="173.17" width="4.18" height="4.93"/>
<rect x="98.91" y="357.47" width="4.54" height="4.93"/>
<rect x="105.76" y="357.47" width="4.18" height="4.93"/>
<rect x="175.41" y="357.47" width="4.54" height="4.93"/>
<rect x="182.27" y="357.47" width="4.18" height="4.93"/>
<rect x="263.31" y="357.47" width="4.54" height="4.93"/>
<rect x="270.16" y="357.47" width="4.18" height="4.93"/>
<rect x="351.11" y="357.47" width="4.54" height="4.93"/>
<rect x="357.96" y="357.47" width="4.18" height="4.93"/>
<rect x="439.01" y="357.47" width="4.54" height="4.93"/>
<rect x="445.86" y="357.47" width="4.18" height="4.93"/>
<rect x="526.91" y="357.47" width="4.54" height="4.93"/>
<rect x="533.76" y="357.47" width="4.18" height="4.93"/>
<rect x="234.76" y="287.87" width="4.54" height="4.93"/>
<rect x="241.62" y="287.87" width="4.18" height="4.93"/>
<rect x="328.56" y="287.87" width="4.54" height="4.93"/>
<rect x="335.42" y="287.87" width="4.18" height="4.93"/>
<rect x="422.06" y="287.87" width="4.54" height="4.93"/>
<rect x="428.92" y="287.87" width="4.18" height="4.93"/>
<rect x="515.46" y="287.87" width="4.54" height="4.93"/>
<rect x="522.32" y="287.87" width="4.18" height="4.93"/>
</g>
</svg>
</body></html>
